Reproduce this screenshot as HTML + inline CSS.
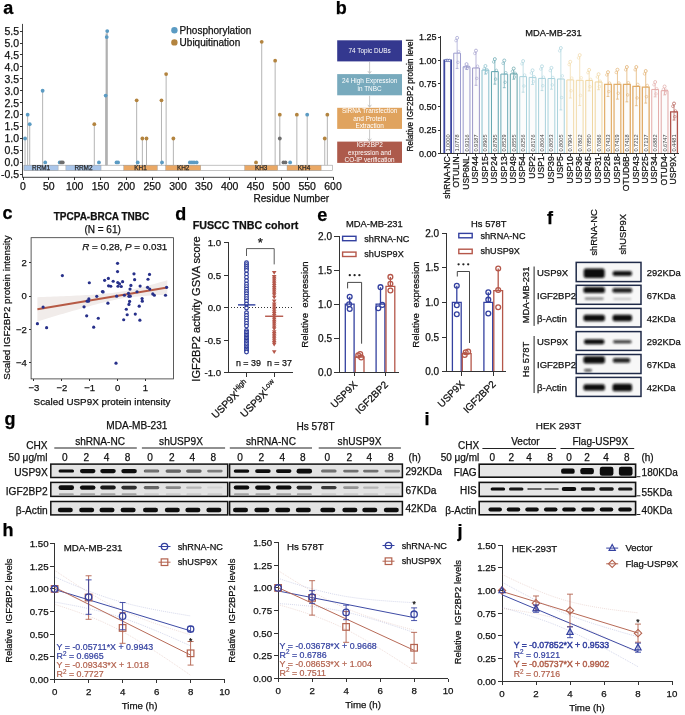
<!DOCTYPE html>
<html><head><meta charset="utf-8"><title>Figure</title>
<style>html,body{margin:0;padding:0;background:#fff;width:685px;height:715px;overflow:hidden}svg{display:block}</style>
</head><body>
<svg width="685" height="715" viewBox="0 0 685 715" font-family='"Liberation Sans", Arial, sans-serif' fill="#111"><defs><filter id="bl3" x="-30%" y="-80%" width="160%" height="260%"><feGaussianBlur stdDeviation="0.6"/></filter><filter id="bl2" x="-30%" y="-80%" width="160%" height="260%"><feGaussianBlur stdDeviation="1.05"/></filter><filter id="bl" x="-30%" y="-80%" width="160%" height="260%"><feGaussianBlur stdDeviation="0.7"/></filter></defs><rect width="685" height="715" fill="#fff"/><text x="3.30" y="14.10" font-size="18" font-weight="bold" fill="#000" stroke="#000" stroke-width="0.25">a</text>
<rect x="24.03" y="165.20" width="308.47" height="5.20" fill="#fff" stroke="#9a9a9a" stroke-width="0.6"/>
<rect x="24.03" y="165.20" width="34.10" height="5.20" fill="#aac6ea" stroke="#9a9a9a" stroke-width="0.4"/>
<text x="41.08" y="170.20" font-size="6.4" text-anchor="middle" fill="#2a2a2a" stroke="#2a2a2a" stroke-width="0.25">RRM1</text>
<rect x="65.89" y="165.20" width="35.14" height="5.20" fill="#aac6ea" stroke="#9a9a9a" stroke-width="0.4"/>
<text x="83.45" y="170.20" font-size="6.4" text-anchor="middle" fill="#2a2a2a" stroke="#2a2a2a" stroke-width="0.25">RRM2</text>
<rect x="123.76" y="165.20" width="33.59" height="5.20" fill="#eaa865" stroke="#9a9a9a" stroke-width="0.4"/>
<text x="140.55" y="170.20" font-size="6.4" text-anchor="middle" fill="#2a2a2a" stroke="#2a2a2a" stroke-width="0.25">KH1</text>
<rect x="165.61" y="165.20" width="35.14" height="5.20" fill="#eaa865" stroke="#9a9a9a" stroke-width="0.4"/>
<text x="183.18" y="170.20" font-size="6.4" text-anchor="middle" fill="#2a2a2a" stroke="#2a2a2a" stroke-width="0.25">KH2</text>
<rect x="244.66" y="165.20" width="33.07" height="5.20" fill="#eaa865" stroke="#9a9a9a" stroke-width="0.4"/>
<text x="261.20" y="170.20" font-size="6.4" text-anchor="middle" fill="#2a2a2a" stroke="#2a2a2a" stroke-width="0.25">KH3</text>
<rect x="287.03" y="165.20" width="34.10" height="5.20" fill="#eaa865" stroke="#9a9a9a" stroke-width="0.4"/>
<text x="304.08" y="170.20" font-size="6.4" text-anchor="middle" fill="#2a2a2a" stroke="#2a2a2a" stroke-width="0.25">KH4</text>
<line x1="25.07" y1="165.20" x2="25.07" y2="138.52" stroke="#b4b4b4" stroke-width="1.0"/>
<line x1="27.65" y1="165.20" x2="27.65" y2="114.64" stroke="#b4b4b4" stroke-width="1.0"/>
<line x1="29.72" y1="165.20" x2="29.72" y2="124.19" stroke="#b4b4b4" stroke-width="1.0"/>
<line x1="42.63" y1="165.20" x2="42.63" y2="90.76" stroke="#b4b4b4" stroke-width="1.0"/>
<line x1="94.30" y1="165.20" x2="94.30" y2="124.19" stroke="#b4b4b4" stroke-width="1.0"/>
<line x1="105.67" y1="165.20" x2="105.67" y2="95.54" stroke="#b4b4b4" stroke-width="1.0"/>
<line x1="106.71" y1="165.20" x2="106.71" y2="37.03" stroke="#b4b4b4" stroke-width="1.0"/>
<line x1="107.22" y1="165.20" x2="107.22" y2="31.06" stroke="#b4b4b4" stroke-width="1.0"/>
<line x1="136.67" y1="165.20" x2="136.67" y2="100.31" stroke="#b4b4b4" stroke-width="1.0"/>
<line x1="142.36" y1="165.20" x2="142.36" y2="138.52" stroke="#b4b4b4" stroke-width="1.0"/>
<line x1="146.49" y1="165.20" x2="146.49" y2="138.52" stroke="#b4b4b4" stroke-width="1.0"/>
<line x1="161.48" y1="165.20" x2="161.48" y2="100.31" stroke="#b4b4b4" stroke-width="1.0"/>
<line x1="166.13" y1="165.20" x2="166.13" y2="74.04" stroke="#b4b4b4" stroke-width="1.0"/>
<line x1="173.36" y1="165.20" x2="173.36" y2="138.52" stroke="#b4b4b4" stroke-width="1.0"/>
<line x1="261.72" y1="165.20" x2="261.72" y2="41.81" stroke="#b4b4b4" stroke-width="1.0"/>
<line x1="275.15" y1="165.20" x2="275.15" y2="60.67" stroke="#b4b4b4" stroke-width="1.0"/>
<line x1="279.80" y1="165.20" x2="279.80" y2="114.64" stroke="#b4b4b4" stroke-width="1.0"/>
<line x1="279.80" y1="165.20" x2="279.80" y2="138.52" stroke="#b4b4b4" stroke-width="1.0"/>
<line x1="296.85" y1="165.20" x2="296.85" y2="114.64" stroke="#b4b4b4" stroke-width="1.0"/>
<line x1="307.19" y1="165.20" x2="307.19" y2="114.64" stroke="#b4b4b4" stroke-width="1.0"/>
<line x1="324.75" y1="165.20" x2="324.75" y2="138.52" stroke="#b4b4b4" stroke-width="1.0"/>
<line x1="327.34" y1="165.20" x2="327.34" y2="114.64" stroke="#b4b4b4" stroke-width="1.0"/>
<line x1="106.45" y1="165.20" x2="106.45" y2="33.45" stroke="#b0b0b0" stroke-width="1.7"/>
<circle cx="25.07" cy="138.52" r="1.90" fill="#5b9bc3" stroke="none" stroke-width="1"/>
<circle cx="27.65" cy="114.64" r="1.90" fill="#5b9bc3" stroke="none" stroke-width="1"/>
<circle cx="29.72" cy="124.19" r="1.90" fill="#5b9bc3" stroke="none" stroke-width="1"/>
<circle cx="42.63" cy="90.76" r="1.90" fill="#5b9bc3" stroke="none" stroke-width="1"/>
<circle cx="45.22" cy="162.40" r="1.90" fill="#5b9bc3" stroke="none" stroke-width="1"/>
<circle cx="59.69" cy="162.40" r="1.90" fill="#5b9bc3" stroke="none" stroke-width="1"/>
<circle cx="61.24" cy="162.40" r="1.90" fill="#6e6e6e" stroke="none" stroke-width="1"/>
<circle cx="62.79" cy="162.40" r="1.90" fill="#6e6e6e" stroke="none" stroke-width="1"/>
<circle cx="94.30" cy="124.19" r="1.90" fill="#b3843f" stroke="none" stroke-width="1"/>
<circle cx="98.95" cy="162.40" r="1.90" fill="#5b9bc3" stroke="none" stroke-width="1"/>
<circle cx="105.67" cy="95.54" r="1.90" fill="#5b9bc3" stroke="none" stroke-width="1"/>
<circle cx="106.71" cy="37.03" r="1.90" fill="#5b9bc3" stroke="none" stroke-width="1"/>
<circle cx="107.22" cy="31.06" r="1.90" fill="#5b9bc3" stroke="none" stroke-width="1"/>
<circle cx="116.52" cy="162.40" r="1.90" fill="#5b9bc3" stroke="none" stroke-width="1"/>
<circle cx="118.07" cy="162.40" r="1.90" fill="#5b9bc3" stroke="none" stroke-width="1"/>
<circle cx="136.67" cy="100.31" r="1.90" fill="#b3843f" stroke="none" stroke-width="1"/>
<circle cx="137.71" cy="162.40" r="1.90" fill="#5b9bc3" stroke="none" stroke-width="1"/>
<circle cx="142.36" cy="138.52" r="1.90" fill="#b3843f" stroke="none" stroke-width="1"/>
<circle cx="146.49" cy="138.52" r="1.90" fill="#b3843f" stroke="none" stroke-width="1"/>
<circle cx="161.48" cy="100.31" r="1.90" fill="#b3843f" stroke="none" stroke-width="1"/>
<circle cx="161.99" cy="162.40" r="1.90" fill="#5b9bc3" stroke="none" stroke-width="1"/>
<circle cx="166.13" cy="74.04" r="1.90" fill="#b3843f" stroke="none" stroke-width="1"/>
<circle cx="173.36" cy="138.52" r="1.90" fill="#b3843f" stroke="none" stroke-width="1"/>
<circle cx="189.89" cy="162.40" r="1.90" fill="#5b9bc3" stroke="none" stroke-width="1"/>
<circle cx="191.96" cy="162.40" r="1.90" fill="#5b9bc3" stroke="none" stroke-width="1"/>
<circle cx="194.03" cy="162.40" r="1.90" fill="#5b9bc3" stroke="none" stroke-width="1"/>
<circle cx="196.61" cy="162.40" r="1.90" fill="#5b9bc3" stroke="none" stroke-width="1"/>
<circle cx="256.03" cy="162.40" r="1.90" fill="#b3843f" stroke="none" stroke-width="1"/>
<circle cx="261.72" cy="41.81" r="1.90" fill="#b3843f" stroke="none" stroke-width="1"/>
<circle cx="275.15" cy="60.67" r="1.90" fill="#b3843f" stroke="none" stroke-width="1"/>
<circle cx="279.80" cy="114.64" r="1.90" fill="#b3843f" stroke="none" stroke-width="1"/>
<circle cx="279.80" cy="138.52" r="1.90" fill="#6e6e6e" stroke="none" stroke-width="1"/>
<circle cx="283.42" cy="162.40" r="1.90" fill="#6e6e6e" stroke="none" stroke-width="1"/>
<circle cx="285.48" cy="162.40" r="1.90" fill="#6e6e6e" stroke="none" stroke-width="1"/>
<circle cx="290.13" cy="162.40" r="1.90" fill="#5b9bc3" stroke="none" stroke-width="1"/>
<circle cx="296.85" cy="114.64" r="1.90" fill="#b3843f" stroke="none" stroke-width="1"/>
<circle cx="307.19" cy="114.64" r="1.90" fill="#5b9bc3" stroke="none" stroke-width="1"/>
<circle cx="324.75" cy="138.52" r="1.90" fill="#b3843f" stroke="none" stroke-width="1"/>
<circle cx="327.34" cy="114.64" r="1.90" fill="#b3843f" stroke="none" stroke-width="1"/>
<line x1="22.50" y1="23.90" x2="22.50" y2="177.70" stroke="#444" stroke-width="1.0"/>
<line x1="22.50" y1="177.30" x2="333.60" y2="177.30" stroke="#444" stroke-width="1.0"/>
<line x1="20.30" y1="174.34" x2="22.50" y2="174.34" stroke="#333" stroke-width="1.0" shape-rendering="crispEdges"/>
<text x="19.00" y="178.14" font-size="10.5" text-anchor="end" stroke="#111" stroke-width="0.25">-0.5</text>
<line x1="20.30" y1="162.40" x2="22.50" y2="162.40" stroke="#333" stroke-width="1.0" shape-rendering="crispEdges"/>
<text x="19.00" y="166.20" font-size="10.5" text-anchor="end" stroke="#111" stroke-width="0.25">0.0</text>
<line x1="20.30" y1="150.46" x2="22.50" y2="150.46" stroke="#333" stroke-width="1.0" shape-rendering="crispEdges"/>
<text x="19.00" y="154.26" font-size="10.5" text-anchor="end" stroke="#111" stroke-width="0.25">0.5</text>
<line x1="20.30" y1="138.52" x2="22.50" y2="138.52" stroke="#333" stroke-width="1.0" shape-rendering="crispEdges"/>
<text x="19.00" y="142.32" font-size="10.5" text-anchor="end" stroke="#111" stroke-width="0.25">1.0</text>
<line x1="20.30" y1="126.58" x2="22.50" y2="126.58" stroke="#333" stroke-width="1.0" shape-rendering="crispEdges"/>
<text x="19.00" y="130.38" font-size="10.5" text-anchor="end" stroke="#111" stroke-width="0.25">1.5</text>
<line x1="20.30" y1="114.64" x2="22.50" y2="114.64" stroke="#333" stroke-width="1.0" shape-rendering="crispEdges"/>
<text x="19.00" y="118.44" font-size="10.5" text-anchor="end" stroke="#111" stroke-width="0.25">2.0</text>
<line x1="20.30" y1="102.70" x2="22.50" y2="102.70" stroke="#333" stroke-width="1.0" shape-rendering="crispEdges"/>
<text x="19.00" y="106.50" font-size="10.5" text-anchor="end" stroke="#111" stroke-width="0.25">2.5</text>
<line x1="20.30" y1="90.76" x2="22.50" y2="90.76" stroke="#333" stroke-width="1.0" shape-rendering="crispEdges"/>
<text x="19.00" y="94.56" font-size="10.5" text-anchor="end" stroke="#111" stroke-width="0.25">3.0</text>
<line x1="20.30" y1="78.82" x2="22.50" y2="78.82" stroke="#333" stroke-width="1.0" shape-rendering="crispEdges"/>
<text x="19.00" y="82.62" font-size="10.5" text-anchor="end" stroke="#111" stroke-width="0.25">3.5</text>
<line x1="20.30" y1="66.88" x2="22.50" y2="66.88" stroke="#333" stroke-width="1.0" shape-rendering="crispEdges"/>
<text x="19.00" y="70.68" font-size="10.5" text-anchor="end" stroke="#111" stroke-width="0.25">4.0</text>
<line x1="20.30" y1="54.94" x2="22.50" y2="54.94" stroke="#333" stroke-width="1.0" shape-rendering="crispEdges"/>
<text x="19.00" y="58.74" font-size="10.5" text-anchor="end" stroke="#111" stroke-width="0.25">4.5</text>
<line x1="20.30" y1="43.00" x2="22.50" y2="43.00" stroke="#333" stroke-width="1.0" shape-rendering="crispEdges"/>
<text x="19.00" y="46.80" font-size="10.5" text-anchor="end" stroke="#111" stroke-width="0.25">5.0</text>
<line x1="20.30" y1="31.06" x2="22.50" y2="31.06" stroke="#333" stroke-width="1.0" shape-rendering="crispEdges"/>
<text x="19.00" y="34.86" font-size="10.5" text-anchor="end" stroke="#111" stroke-width="0.25">5.5</text>
<line x1="23.00" y1="177.20" x2="23.00" y2="179.80" stroke="#333" stroke-width="1.0" shape-rendering="crispEdges"/>
<text x="23.00" y="189.60" font-size="10.5" text-anchor="middle" stroke="#111" stroke-width="0.25">0</text>
<line x1="48.84" y1="177.20" x2="48.84" y2="179.80" stroke="#333" stroke-width="1.0" shape-rendering="crispEdges"/>
<text x="48.84" y="189.60" font-size="10.5" text-anchor="middle" stroke="#111" stroke-width="0.25">50</text>
<line x1="74.67" y1="177.20" x2="74.67" y2="179.80" stroke="#333" stroke-width="1.0" shape-rendering="crispEdges"/>
<text x="74.67" y="189.60" font-size="10.5" text-anchor="middle" stroke="#111" stroke-width="0.25">100</text>
<line x1="100.51" y1="177.20" x2="100.51" y2="179.80" stroke="#333" stroke-width="1.0" shape-rendering="crispEdges"/>
<text x="100.51" y="189.60" font-size="10.5" text-anchor="middle" stroke="#111" stroke-width="0.25">150</text>
<line x1="126.34" y1="177.20" x2="126.34" y2="179.80" stroke="#333" stroke-width="1.0" shape-rendering="crispEdges"/>
<text x="126.34" y="189.60" font-size="10.5" text-anchor="middle" stroke="#111" stroke-width="0.25">200</text>
<line x1="152.18" y1="177.20" x2="152.18" y2="179.80" stroke="#333" stroke-width="1.0" shape-rendering="crispEdges"/>
<text x="152.18" y="189.60" font-size="10.5" text-anchor="middle" stroke="#111" stroke-width="0.25">250</text>
<line x1="178.01" y1="177.20" x2="178.01" y2="179.80" stroke="#333" stroke-width="1.0" shape-rendering="crispEdges"/>
<text x="178.01" y="189.60" font-size="10.5" text-anchor="middle" stroke="#111" stroke-width="0.25">300</text>
<line x1="203.85" y1="177.20" x2="203.85" y2="179.80" stroke="#333" stroke-width="1.0" shape-rendering="crispEdges"/>
<text x="203.85" y="189.60" font-size="10.5" text-anchor="middle" stroke="#111" stroke-width="0.25">350</text>
<line x1="229.68" y1="177.20" x2="229.68" y2="179.80" stroke="#333" stroke-width="1.0" shape-rendering="crispEdges"/>
<text x="229.68" y="189.60" font-size="10.5" text-anchor="middle" stroke="#111" stroke-width="0.25">400</text>
<line x1="255.52" y1="177.20" x2="255.52" y2="179.80" stroke="#333" stroke-width="1.0" shape-rendering="crispEdges"/>
<text x="255.52" y="189.60" font-size="10.5" text-anchor="middle" stroke="#111" stroke-width="0.25">450</text>
<line x1="281.35" y1="177.20" x2="281.35" y2="179.80" stroke="#333" stroke-width="1.0" shape-rendering="crispEdges"/>
<text x="281.35" y="189.60" font-size="10.5" text-anchor="middle" stroke="#111" stroke-width="0.25">500</text>
<line x1="307.19" y1="177.20" x2="307.19" y2="179.80" stroke="#333" stroke-width="1.0" shape-rendering="crispEdges"/>
<text x="307.19" y="189.60" font-size="10.5" text-anchor="middle" stroke="#111" stroke-width="0.25">550</text>
<line x1="333.02" y1="177.20" x2="333.02" y2="179.80" stroke="#333" stroke-width="1.0" shape-rendering="crispEdges"/>
<text x="333.02" y="189.60" font-size="10.5" text-anchor="middle" stroke="#111" stroke-width="0.25">600</text>
<text x="329.20" y="201.60" font-size="10.1" text-anchor="end" stroke="#111" stroke-width="0.25">Residue Number</text>
<circle cx="174.40" cy="30.20" r="3.20" fill="#5b9bc3" stroke="none" stroke-width="1"/>
<text x="179.60" y="33.70" font-size="10.0" stroke="#111" stroke-width="0.25">Phosphorylation</text>
<circle cx="174.40" cy="42.40" r="3.20" fill="#b3843f" stroke="none" stroke-width="1"/>
<text x="179.60" y="46.00" font-size="10.0" stroke="#111" stroke-width="0.25">Ubiquitination</text>
<text x="335.70" y="13.80" font-size="18" font-weight="bold" fill="#000" stroke="#000" stroke-width="0.25">b</text>
<rect x="337.20" y="40.30" width="64.80" height="21.10" fill="#34388f" stroke="none" stroke-width="1"/>
<text x="369.60" y="53.15" font-size="6.4" text-anchor="middle" fill="#fff">74 Topic DUBs</text>
<line x1="369.60" y1="61.90" x2="369.60" y2="73.10" stroke="#b0b0b0" stroke-width="0.7"/>
<path d="M367.9,71.1 L369.6,73.6 L371.3,71.1" fill="none" stroke="#b0b0b0" stroke-width="0.7"/>
<rect x="337.20" y="74.10" width="64.80" height="21.20" fill="#78aabd" stroke="none" stroke-width="1"/>
<text x="369.60" y="83.30" font-size="6.4" text-anchor="middle" fill="#fff">24 High Expression</text>
<text x="369.60" y="90.70" font-size="6.4" text-anchor="middle" fill="#fff">in TNBC</text>
<line x1="369.60" y1="95.80" x2="369.60" y2="106.80" stroke="#b0b0b0" stroke-width="0.7"/>
<path d="M367.9,104.8 L369.6,107.3 L371.3,104.8" fill="none" stroke="#b0b0b0" stroke-width="0.7"/>
<rect x="337.20" y="107.80" width="64.80" height="21.10" fill="#e0a35e" stroke="none" stroke-width="1"/>
<text x="369.60" y="113.25" font-size="6.4" text-anchor="middle" fill="#fff">SiRNA Transfection</text>
<text x="369.60" y="120.65" font-size="6.4" text-anchor="middle" fill="#fff">and Protein</text>
<text x="369.60" y="128.05" font-size="6.4" text-anchor="middle" fill="#fff">Extraction</text>
<line x1="369.60" y1="129.40" x2="369.60" y2="140.60" stroke="#b0b0b0" stroke-width="0.7"/>
<path d="M367.9,138.6 L369.6,141.1 L371.3,138.6" fill="none" stroke="#b0b0b0" stroke-width="0.7"/>
<rect x="337.20" y="141.60" width="64.80" height="21.30" fill="#ad5a4b" stroke="none" stroke-width="1"/>
<text x="369.60" y="147.15" font-size="6.4" text-anchor="middle" fill="#fff">IGF2BP2</text>
<text x="369.60" y="154.55" font-size="6.4" text-anchor="middle" fill="#fff">expression and</text>
<text x="369.60" y="161.95" font-size="6.4" text-anchor="middle" fill="#fff">CO-IP verification</text>
<text x="413.00" y="95.50" font-size="8.2" text-anchor="middle" transform="rotate(-90 413.00 95.50)" stroke="#111" stroke-width="0.25">Relative IGF2BP2 protein level</text>
<line x1="440.30" y1="35.50" x2="440.30" y2="153.50" stroke="#333" stroke-width="1.0" shape-rendering="crispEdges"/>
<line x1="437.70" y1="153.50" x2="440.30" y2="153.50" stroke="#333" stroke-width="1.0" shape-rendering="crispEdges"/>
<text x="436.60" y="156.70" font-size="9.0" text-anchor="end" stroke="#111" stroke-width="0.25">0.00</text>
<line x1="437.70" y1="130.22" x2="440.30" y2="130.22" stroke="#333" stroke-width="1.0" shape-rendering="crispEdges"/>
<text x="436.60" y="133.42" font-size="9.0" text-anchor="end" stroke="#111" stroke-width="0.25">0.25</text>
<line x1="437.70" y1="106.95" x2="440.30" y2="106.95" stroke="#333" stroke-width="1.0" shape-rendering="crispEdges"/>
<text x="436.60" y="110.15" font-size="9.0" text-anchor="end" stroke="#111" stroke-width="0.25">0.50</text>
<line x1="437.70" y1="83.68" x2="440.30" y2="83.68" stroke="#333" stroke-width="1.0" shape-rendering="crispEdges"/>
<text x="436.60" y="86.88" font-size="9.0" text-anchor="end" stroke="#111" stroke-width="0.25">0.75</text>
<line x1="437.70" y1="60.40" x2="440.30" y2="60.40" stroke="#333" stroke-width="1.0" shape-rendering="crispEdges"/>
<text x="436.60" y="63.60" font-size="9.0" text-anchor="end" stroke="#111" stroke-width="0.25">1.00</text>
<line x1="437.70" y1="37.12" x2="440.30" y2="37.12" stroke="#333" stroke-width="1.0" shape-rendering="crispEdges"/>
<text x="436.60" y="40.33" font-size="9.0" text-anchor="end" stroke="#111" stroke-width="0.25">1.25</text>
<text x="553.50" y="36.00" font-size="9.3" text-anchor="middle" stroke="#111" stroke-width="0.25">MDA-MB-231</text>
<rect x="444.30" y="60.40" width="6.80" height="93.10" fill="#fcfcfc" stroke="none" stroke-width="1"/>
<path d="M444.30,153.50 L444.30,60.40 L451.10,60.40 L451.10,153.50" fill="none" stroke="#3d48a0" stroke-width="1.8"/>
<circle cx="446.10" cy="60.40" r="1.20" fill="#fff" stroke="#3d48a0" stroke-width="0.6"/>
<circle cx="447.70" cy="60.40" r="1.20" fill="#fff" stroke="#3d48a0" stroke-width="0.6"/>
<circle cx="449.30" cy="60.40" r="1.20" fill="#fff" stroke="#3d48a0" stroke-width="0.6"/>
<line x1="447.70" y1="153.50" x2="447.70" y2="155.90" stroke="#333" stroke-width="1.0" shape-rendering="crispEdges"/>
<text x="449.70" y="151.60" font-size="5.6" fill="#444" transform="rotate(-90 449.70 151.60)">1.0000</text>
<text x="450.00" y="156.30" font-size="8.6" text-anchor="end" transform="rotate(-90 450.00 156.30)" stroke="#111" stroke-width="0.25">shRNA-NC</text>
<rect x="453.73" y="53.16" width="6.80" height="100.34" fill="#fcfcfc" stroke="none" stroke-width="1"/>
<path d="M453.73,153.50 L453.73,53.16 L460.53,53.16 L460.53,153.50" fill="none" stroke="#9d9dcf" stroke-width="1.0"/>
<line x1="457.13" y1="39.27" x2="457.13" y2="68.44" stroke="#9d9dcf" stroke-width="0.7"/>
<line x1="455.73" y1="68.44" x2="458.53" y2="68.44" stroke="#9d9dcf" stroke-width="0.7"/>
<circle cx="457.13" cy="37.87" r="1.50" fill="#fff" stroke="#9d9dcf" stroke-width="0.7"/>
<circle cx="455.93" cy="40.66" r="1.30" fill="none" stroke="#9d9dcf" stroke-width="0.5"/>
<circle cx="457.93" cy="62.33" r="1.30" fill="none" stroke="#9d9dcf" stroke-width="0.5"/>
<circle cx="458.63" cy="51.63" r="1.30" fill="none" stroke="#9d9dcf" stroke-width="0.5"/>
<line x1="457.13" y1="153.50" x2="457.13" y2="155.90" stroke="#333" stroke-width="1.0" shape-rendering="crispEdges"/>
<text x="459.13" y="151.60" font-size="5.6" fill="#444" transform="rotate(-90 459.13 151.60)">1.0778</text>
<text x="459.43" y="156.30" font-size="8.6" text-anchor="end" transform="rotate(-90 459.43 156.30)" stroke="#111" stroke-width="0.25">OTULIN</text>
<rect x="463.16" y="66.77" width="6.80" height="86.73" fill="#fcfcfc" stroke="none" stroke-width="1"/>
<path d="M463.16,153.50 L463.16,66.77 L469.96,66.77 L469.96,153.50" fill="none" stroke="#9a9acb" stroke-width="1.0"/>
<line x1="466.56" y1="65.52" x2="466.56" y2="69.41" stroke="#9a9acb" stroke-width="0.7"/>
<line x1="465.16" y1="69.41" x2="467.96" y2="69.41" stroke="#9a9acb" stroke-width="0.7"/>
<circle cx="466.56" cy="64.12" r="1.50" fill="#fff" stroke="#9a9acb" stroke-width="0.7"/>
<circle cx="465.36" cy="66.92" r="1.30" fill="none" stroke="#9a9acb" stroke-width="0.5"/>
<circle cx="467.36" cy="68.35" r="1.30" fill="none" stroke="#9a9acb" stroke-width="0.5"/>
<circle cx="468.06" cy="66.50" r="1.30" fill="none" stroke="#9a9acb" stroke-width="0.5"/>
<line x1="466.56" y1="153.50" x2="466.56" y2="155.90" stroke="#333" stroke-width="1.0" shape-rendering="crispEdges"/>
<text x="468.56" y="151.60" font-size="5.6" fill="#444" transform="rotate(-90 468.56 151.60)">0.9316</text>
<text x="468.86" y="156.30" font-size="8.6" text-anchor="end" transform="rotate(-90 468.86 156.30)" stroke="#111" stroke-width="0.25">USP6NL</text>
<rect x="472.59" y="67.97" width="6.80" height="85.53" fill="#fcfcfc" stroke="none" stroke-width="1"/>
<path d="M472.59,153.50 L472.59,67.97 L479.39,67.97 L479.39,153.50" fill="none" stroke="#9d98c8" stroke-width="1.0"/>
<line x1="475.99" y1="52.02" x2="475.99" y2="85.31" stroke="#9d98c8" stroke-width="0.7"/>
<line x1="474.59" y1="85.31" x2="477.39" y2="85.31" stroke="#9d98c8" stroke-width="0.7"/>
<circle cx="475.99" cy="50.62" r="1.50" fill="#fff" stroke="#9d98c8" stroke-width="0.7"/>
<circle cx="474.79" cy="53.42" r="1.30" fill="none" stroke="#9d98c8" stroke-width="0.5"/>
<circle cx="476.79" cy="78.38" r="1.30" fill="none" stroke="#9d98c8" stroke-width="0.5"/>
<circle cx="477.49" cy="66.23" r="1.30" fill="none" stroke="#9d98c8" stroke-width="0.5"/>
<line x1="475.99" y1="153.50" x2="475.99" y2="155.90" stroke="#333" stroke-width="1.0" shape-rendering="crispEdges"/>
<text x="477.99" y="151.60" font-size="5.6" fill="#444" transform="rotate(-90 477.99 151.60)">0.9187</text>
<text x="478.29" y="156.30" font-size="8.6" text-anchor="end" transform="rotate(-90 478.29 156.30)" stroke="#111" stroke-width="0.25">USP44</text>
<rect x="482.02" y="70.04" width="6.80" height="83.46" fill="#fcfcfc" stroke="none" stroke-width="1"/>
<path d="M482.02,153.50 L482.02,70.04 L488.82,70.04 L488.82,153.50" fill="none" stroke="#86bfcc" stroke-width="1.0"/>
<line x1="485.42" y1="67.39" x2="485.42" y2="74.09" stroke="#86bfcc" stroke-width="0.7"/>
<line x1="484.02" y1="74.09" x2="486.82" y2="74.09" stroke="#86bfcc" stroke-width="0.7"/>
<circle cx="485.42" cy="65.99" r="1.50" fill="#fff" stroke="#86bfcc" stroke-width="0.7"/>
<circle cx="484.22" cy="68.78" r="1.30" fill="none" stroke="#86bfcc" stroke-width="0.5"/>
<circle cx="486.22" cy="72.47" r="1.30" fill="none" stroke="#86bfcc" stroke-width="0.5"/>
<circle cx="486.92" cy="69.63" r="1.30" fill="none" stroke="#86bfcc" stroke-width="0.5"/>
<line x1="485.42" y1="153.50" x2="485.42" y2="155.90" stroke="#333" stroke-width="1.0" shape-rendering="crispEdges"/>
<text x="487.42" y="151.60" font-size="5.6" fill="#444" transform="rotate(-90 487.42 151.60)">0.8965</text>
<text x="487.72" y="156.30" font-size="8.6" text-anchor="end" transform="rotate(-90 487.72 156.30)" stroke="#111" stroke-width="0.25">USP15</text>
<rect x="491.45" y="71.62" width="6.80" height="81.88" fill="#fcfcfc" stroke="none" stroke-width="1"/>
<path d="M491.45,153.50 L491.45,71.62 L498.25,71.62 L498.25,153.50" fill="none" stroke="#5fa3ad" stroke-width="1.0"/>
<line x1="494.85" y1="60.50" x2="494.85" y2="84.14" stroke="#5fa3ad" stroke-width="0.7"/>
<line x1="493.45" y1="84.14" x2="496.25" y2="84.14" stroke="#5fa3ad" stroke-width="0.7"/>
<circle cx="494.85" cy="59.10" r="1.50" fill="#fff" stroke="#5fa3ad" stroke-width="0.7"/>
<circle cx="493.65" cy="61.89" r="1.30" fill="none" stroke="#5fa3ad" stroke-width="0.5"/>
<circle cx="495.65" cy="79.13" r="1.30" fill="none" stroke="#5fa3ad" stroke-width="0.5"/>
<circle cx="496.35" cy="70.37" r="1.30" fill="none" stroke="#5fa3ad" stroke-width="0.5"/>
<line x1="494.85" y1="153.50" x2="494.85" y2="155.90" stroke="#333" stroke-width="1.0" shape-rendering="crispEdges"/>
<text x="496.85" y="151.60" font-size="5.6" fill="#444" transform="rotate(-90 496.85 151.60)">0.8795</text>
<text x="497.15" y="156.30" font-size="8.6" text-anchor="end" transform="rotate(-90 497.15 156.30)" stroke="#111" stroke-width="0.25">USP24</text>
<rect x="500.88" y="74.10" width="6.80" height="79.40" fill="#fcfcfc" stroke="none" stroke-width="1"/>
<path d="M500.88,153.50 L500.88,74.10 L507.68,74.10 L507.68,153.50" fill="none" stroke="#6aa9b5" stroke-width="1.0"/>
<line x1="504.28" y1="61.89" x2="504.28" y2="87.70" stroke="#6aa9b5" stroke-width="0.7"/>
<line x1="502.88" y1="87.70" x2="505.68" y2="87.70" stroke="#6aa9b5" stroke-width="0.7"/>
<circle cx="504.28" cy="60.49" r="1.50" fill="#fff" stroke="#6aa9b5" stroke-width="0.7"/>
<circle cx="503.08" cy="63.29" r="1.30" fill="none" stroke="#6aa9b5" stroke-width="0.5"/>
<circle cx="505.08" cy="82.26" r="1.30" fill="none" stroke="#6aa9b5" stroke-width="0.5"/>
<circle cx="505.78" cy="72.73" r="1.30" fill="none" stroke="#6aa9b5" stroke-width="0.5"/>
<line x1="504.28" y1="153.50" x2="504.28" y2="155.90" stroke="#333" stroke-width="1.0" shape-rendering="crispEdges"/>
<text x="506.28" y="151.60" font-size="5.6" fill="#444" transform="rotate(-90 506.28 151.60)">0.8529</text>
<text x="506.58" y="156.30" font-size="8.6" text-anchor="end" transform="rotate(-90 506.58 156.30)" stroke="#111" stroke-width="0.25">USP13</text>
<rect x="510.31" y="73.85" width="6.80" height="79.65" fill="#fcfcfc" stroke="none" stroke-width="1"/>
<path d="M510.31,153.50 L510.31,73.85 L517.11,73.85 L517.11,153.50" fill="none" stroke="#62a3a8" stroke-width="1.0"/>
<line x1="513.71" y1="69.90" x2="513.71" y2="79.21" stroke="#62a3a8" stroke-width="0.7"/>
<line x1="512.31" y1="79.21" x2="515.11" y2="79.21" stroke="#62a3a8" stroke-width="0.7"/>
<circle cx="513.71" cy="68.50" r="1.50" fill="#fff" stroke="#62a3a8" stroke-width="0.7"/>
<circle cx="512.51" cy="71.29" r="1.30" fill="none" stroke="#62a3a8" stroke-width="0.5"/>
<circle cx="514.51" cy="77.06" r="1.30" fill="none" stroke="#62a3a8" stroke-width="0.5"/>
<circle cx="515.21" cy="73.32" r="1.30" fill="none" stroke="#62a3a8" stroke-width="0.5"/>
<line x1="513.71" y1="153.50" x2="513.71" y2="155.90" stroke="#333" stroke-width="1.0" shape-rendering="crispEdges"/>
<text x="515.71" y="151.60" font-size="5.6" fill="#444" transform="rotate(-90 515.71 151.60)">0.8555</text>
<text x="516.01" y="156.30" font-size="8.6" text-anchor="end" transform="rotate(-90 516.01 156.30)" stroke="#111" stroke-width="0.25">USP49</text>
<rect x="519.74" y="76.64" width="6.80" height="76.86" fill="#fcfcfc" stroke="none" stroke-width="1"/>
<path d="M519.74,153.50 L519.74,76.64 L526.54,76.64 L526.54,153.50" fill="none" stroke="#a9d2dc" stroke-width="1.0"/>
<line x1="523.14" y1="62.45" x2="523.14" y2="92.22" stroke="#a9d2dc" stroke-width="0.7"/>
<line x1="521.74" y1="92.22" x2="524.54" y2="92.22" stroke="#a9d2dc" stroke-width="0.7"/>
<circle cx="523.14" cy="61.05" r="1.50" fill="#fff" stroke="#a9d2dc" stroke-width="0.7"/>
<circle cx="521.94" cy="63.84" r="1.30" fill="none" stroke="#a9d2dc" stroke-width="0.5"/>
<circle cx="523.94" cy="85.99" r="1.30" fill="none" stroke="#a9d2dc" stroke-width="0.5"/>
<circle cx="524.64" cy="75.08" r="1.30" fill="none" stroke="#a9d2dc" stroke-width="0.5"/>
<line x1="523.14" y1="153.50" x2="523.14" y2="155.90" stroke="#333" stroke-width="1.0" shape-rendering="crispEdges"/>
<text x="525.14" y="151.60" font-size="5.6" fill="#444" transform="rotate(-90 525.14 151.60)">0.8256</text>
<text x="525.44" y="156.30" font-size="8.6" text-anchor="end" transform="rotate(-90 525.44 156.30)" stroke="#111" stroke-width="0.25">USP54</text>
<rect x="529.17" y="77.38" width="6.80" height="76.12" fill="#fcfcfc" stroke="none" stroke-width="1"/>
<path d="M529.17,153.50 L529.17,77.38 L535.97,77.38 L535.97,153.50" fill="none" stroke="#a9d2dc" stroke-width="1.0"/>
<line x1="532.57" y1="71.67" x2="532.57" y2="84.49" stroke="#a9d2dc" stroke-width="0.7"/>
<line x1="531.17" y1="84.49" x2="533.97" y2="84.49" stroke="#a9d2dc" stroke-width="0.7"/>
<circle cx="532.57" cy="70.27" r="1.50" fill="#fff" stroke="#a9d2dc" stroke-width="0.7"/>
<circle cx="531.37" cy="73.06" r="1.30" fill="none" stroke="#a9d2dc" stroke-width="0.5"/>
<circle cx="533.37" cy="81.65" r="1.30" fill="none" stroke="#a9d2dc" stroke-width="0.5"/>
<circle cx="534.07" cy="76.67" r="1.30" fill="none" stroke="#a9d2dc" stroke-width="0.5"/>
<line x1="532.57" y1="153.50" x2="532.57" y2="155.90" stroke="#333" stroke-width="1.0" shape-rendering="crispEdges"/>
<text x="534.57" y="151.60" font-size="5.6" fill="#444" transform="rotate(-90 534.57 151.60)">0.8176</text>
<text x="534.87" y="156.30" font-size="8.6" text-anchor="end" transform="rotate(-90 534.87 156.30)" stroke="#111" stroke-width="0.25">USP2</text>
<rect x="538.60" y="78.42" width="6.80" height="75.08" fill="#fcfcfc" stroke="none" stroke-width="1"/>
<path d="M538.60,153.50 L538.60,78.42 L545.40,78.42 L545.40,153.50" fill="none" stroke="#a9d2dc" stroke-width="1.0"/>
<line x1="542.00" y1="67.67" x2="542.00" y2="90.58" stroke="#a9d2dc" stroke-width="0.7"/>
<line x1="540.60" y1="90.58" x2="543.40" y2="90.58" stroke="#a9d2dc" stroke-width="0.7"/>
<circle cx="542.00" cy="66.27" r="1.50" fill="#fff" stroke="#a9d2dc" stroke-width="0.7"/>
<circle cx="540.80" cy="69.06" r="1.30" fill="none" stroke="#a9d2dc" stroke-width="0.5"/>
<circle cx="542.80" cy="85.72" r="1.30" fill="none" stroke="#a9d2dc" stroke-width="0.5"/>
<circle cx="543.50" cy="77.21" r="1.30" fill="none" stroke="#a9d2dc" stroke-width="0.5"/>
<line x1="542.00" y1="153.50" x2="542.00" y2="155.90" stroke="#333" stroke-width="1.0" shape-rendering="crispEdges"/>
<text x="544.00" y="151.60" font-size="5.6" fill="#444" transform="rotate(-90 544.00 151.60)">0.8064</text>
<text x="544.30" y="156.30" font-size="8.6" text-anchor="end" transform="rotate(-90 544.30 156.30)" stroke="#111" stroke-width="0.25">USP1</text>
<rect x="548.03" y="78.53" width="6.80" height="74.97" fill="#fcfcfc" stroke="none" stroke-width="1"/>
<path d="M548.03,153.50 L548.03,78.53 L554.83,78.53 L554.83,153.50" fill="none" stroke="#a9d2dc" stroke-width="1.0"/>
<line x1="551.43" y1="69.25" x2="551.43" y2="89.21" stroke="#a9d2dc" stroke-width="0.7"/>
<line x1="550.03" y1="89.21" x2="552.83" y2="89.21" stroke="#a9d2dc" stroke-width="0.7"/>
<circle cx="551.43" cy="67.85" r="1.50" fill="#fff" stroke="#a9d2dc" stroke-width="0.7"/>
<circle cx="550.23" cy="70.64" r="1.30" fill="none" stroke="#a9d2dc" stroke-width="0.5"/>
<circle cx="552.23" cy="84.93" r="1.30" fill="none" stroke="#a9d2dc" stroke-width="0.5"/>
<circle cx="552.93" cy="77.46" r="1.30" fill="none" stroke="#a9d2dc" stroke-width="0.5"/>
<line x1="551.43" y1="153.50" x2="551.43" y2="155.90" stroke="#333" stroke-width="1.0" shape-rendering="crispEdges"/>
<text x="553.43" y="151.60" font-size="5.6" fill="#444" transform="rotate(-90 553.43 151.60)">0.8053</text>
<text x="553.73" y="156.30" font-size="8.6" text-anchor="end" transform="rotate(-90 553.73 156.30)" stroke="#111" stroke-width="0.25">USP39</text>
<rect x="557.46" y="78.97" width="6.80" height="74.53" fill="#fcfcfc" stroke="none" stroke-width="1"/>
<path d="M557.46,153.50 L557.46,78.97 L564.26,78.97 L564.26,153.50" fill="none" stroke="#a9d2dc" stroke-width="1.0"/>
<line x1="560.86" y1="49.42" x2="560.86" y2="109.93" stroke="#a9d2dc" stroke-width="0.7"/>
<line x1="559.46" y1="109.93" x2="562.26" y2="109.93" stroke="#a9d2dc" stroke-width="0.7"/>
<circle cx="560.86" cy="48.02" r="1.50" fill="#fff" stroke="#a9d2dc" stroke-width="0.7"/>
<circle cx="559.66" cy="50.81" r="1.30" fill="none" stroke="#a9d2dc" stroke-width="0.5"/>
<circle cx="561.66" cy="97.55" r="1.30" fill="none" stroke="#a9d2dc" stroke-width="0.5"/>
<circle cx="562.36" cy="75.88" r="1.30" fill="none" stroke="#a9d2dc" stroke-width="0.5"/>
<line x1="560.86" y1="153.50" x2="560.86" y2="155.90" stroke="#333" stroke-width="1.0" shape-rendering="crispEdges"/>
<text x="562.86" y="151.60" font-size="5.6" fill="#444" transform="rotate(-90 562.86 151.60)">0.8005</text>
<text x="563.16" y="156.30" font-size="8.6" text-anchor="end" transform="rotate(-90 563.16 156.30)" stroke="#111" stroke-width="0.25">USP5</text>
<rect x="566.89" y="79.91" width="6.80" height="73.59" fill="#fcfcfc" stroke="none" stroke-width="1"/>
<path d="M566.89,153.50 L566.89,79.91 L573.69,79.91 L573.69,153.50" fill="none" stroke="#f0d8a6" stroke-width="1.0"/>
<line x1="570.29" y1="63.20" x2="570.29" y2="98.03" stroke="#f0d8a6" stroke-width="0.7"/>
<line x1="568.89" y1="98.03" x2="571.69" y2="98.03" stroke="#f0d8a6" stroke-width="0.7"/>
<circle cx="570.29" cy="61.80" r="1.50" fill="#fff" stroke="#f0d8a6" stroke-width="0.7"/>
<circle cx="569.09" cy="64.59" r="1.30" fill="none" stroke="#f0d8a6" stroke-width="0.5"/>
<circle cx="571.09" cy="90.78" r="1.30" fill="none" stroke="#f0d8a6" stroke-width="0.5"/>
<circle cx="571.79" cy="78.10" r="1.30" fill="none" stroke="#f0d8a6" stroke-width="0.5"/>
<line x1="570.29" y1="153.50" x2="570.29" y2="155.90" stroke="#333" stroke-width="1.0" shape-rendering="crispEdges"/>
<text x="572.29" y="151.60" font-size="5.6" fill="#444" transform="rotate(-90 572.29 151.60)">0.7904</text>
<text x="572.59" y="156.30" font-size="8.6" text-anchor="end" transform="rotate(-90 572.59 156.30)" stroke="#111" stroke-width="0.25">USP10</text>
<rect x="576.32" y="80.30" width="6.80" height="73.20" fill="#fcfcfc" stroke="none" stroke-width="1"/>
<path d="M576.32,153.50 L576.32,80.30 L583.12,80.30 L583.12,153.50" fill="none" stroke="#f0d8a6" stroke-width="1.0"/>
<line x1="579.72" y1="56.49" x2="579.72" y2="105.52" stroke="#f0d8a6" stroke-width="0.7"/>
<line x1="578.32" y1="105.52" x2="581.12" y2="105.52" stroke="#f0d8a6" stroke-width="0.7"/>
<circle cx="579.72" cy="55.09" r="1.50" fill="#fff" stroke="#f0d8a6" stroke-width="0.7"/>
<circle cx="578.52" cy="57.89" r="1.30" fill="none" stroke="#f0d8a6" stroke-width="0.5"/>
<circle cx="580.52" cy="95.43" r="1.30" fill="none" stroke="#f0d8a6" stroke-width="0.5"/>
<circle cx="581.22" cy="77.78" r="1.30" fill="none" stroke="#f0d8a6" stroke-width="0.5"/>
<line x1="579.72" y1="153.50" x2="579.72" y2="155.90" stroke="#333" stroke-width="1.0" shape-rendering="crispEdges"/>
<text x="581.72" y="151.60" font-size="5.6" fill="#444" transform="rotate(-90 581.72 151.60)">0.7862</text>
<text x="582.02" y="156.30" font-size="8.6" text-anchor="end" transform="rotate(-90 582.02 156.30)" stroke="#111" stroke-width="0.25">USP36</text>
<rect x="585.75" y="80.42" width="6.80" height="73.08" fill="#fcfcfc" stroke="none" stroke-width="1"/>
<path d="M585.75,153.50 L585.75,80.42 L592.55,80.42 L592.55,153.50" fill="none" stroke="#efd49e" stroke-width="1.0"/>
<line x1="589.15" y1="71.30" x2="589.15" y2="90.94" stroke="#efd49e" stroke-width="0.7"/>
<line x1="587.75" y1="90.94" x2="590.55" y2="90.94" stroke="#efd49e" stroke-width="0.7"/>
<circle cx="589.15" cy="69.90" r="1.50" fill="#fff" stroke="#efd49e" stroke-width="0.7"/>
<circle cx="587.95" cy="72.69" r="1.30" fill="none" stroke="#efd49e" stroke-width="0.5"/>
<circle cx="589.95" cy="86.73" r="1.30" fill="none" stroke="#efd49e" stroke-width="0.5"/>
<circle cx="590.65" cy="79.36" r="1.30" fill="none" stroke="#efd49e" stroke-width="0.5"/>
<line x1="589.15" y1="153.50" x2="589.15" y2="155.90" stroke="#333" stroke-width="1.0" shape-rendering="crispEdges"/>
<text x="591.15" y="151.60" font-size="5.6" fill="#444" transform="rotate(-90 591.15 151.60)">0.7850</text>
<text x="591.45" y="156.30" font-size="8.6" text-anchor="end" transform="rotate(-90 591.45 156.30)" stroke="#111" stroke-width="0.25">USP45</text>
<rect x="595.18" y="81.94" width="6.80" height="71.56" fill="#fcfcfc" stroke="none" stroke-width="1"/>
<path d="M595.18,153.50 L595.18,81.94 L601.98,81.94 L601.98,153.50" fill="none" stroke="#efd49e" stroke-width="1.0"/>
<line x1="598.58" y1="75.58" x2="598.58" y2="89.71" stroke="#efd49e" stroke-width="0.7"/>
<line x1="597.18" y1="89.71" x2="599.98" y2="89.71" stroke="#efd49e" stroke-width="0.7"/>
<circle cx="598.58" cy="74.18" r="1.50" fill="#fff" stroke="#efd49e" stroke-width="0.7"/>
<circle cx="597.38" cy="76.97" r="1.30" fill="none" stroke="#efd49e" stroke-width="0.5"/>
<circle cx="599.38" cy="86.60" r="1.30" fill="none" stroke="#efd49e" stroke-width="0.5"/>
<circle cx="600.08" cy="81.17" r="1.30" fill="none" stroke="#efd49e" stroke-width="0.5"/>
<line x1="598.58" y1="153.50" x2="598.58" y2="155.90" stroke="#333" stroke-width="1.0" shape-rendering="crispEdges"/>
<text x="600.58" y="151.60" font-size="5.6" fill="#444" transform="rotate(-90 600.58 151.60)">0.7686</text>
<text x="600.88" y="156.30" font-size="8.6" text-anchor="end" transform="rotate(-90 600.88 156.30)" stroke="#111" stroke-width="0.25">USP31</text>
<rect x="604.61" y="84.30" width="6.80" height="69.20" fill="#fcfcfc" stroke="none" stroke-width="1"/>
<path d="M604.61,153.50 L604.61,84.30 L611.41,84.30 L611.41,153.50" fill="none" stroke="#e3b06e" stroke-width="1.3"/>
<line x1="608.01" y1="73.53" x2="608.01" y2="96.47" stroke="#e3b06e" stroke-width="0.7"/>
<line x1="606.61" y1="96.47" x2="609.41" y2="96.47" stroke="#e3b06e" stroke-width="0.7"/>
<circle cx="608.01" cy="72.13" r="1.50" fill="#fff" stroke="#e3b06e" stroke-width="0.7"/>
<circle cx="606.81" cy="74.92" r="1.30" fill="none" stroke="#e3b06e" stroke-width="0.5"/>
<circle cx="608.81" cy="91.60" r="1.30" fill="none" stroke="#e3b06e" stroke-width="0.5"/>
<circle cx="609.51" cy="83.08" r="1.30" fill="none" stroke="#e3b06e" stroke-width="0.5"/>
<line x1="608.01" y1="153.50" x2="608.01" y2="155.90" stroke="#333" stroke-width="1.0" shape-rendering="crispEdges"/>
<text x="610.01" y="151.60" font-size="5.6" fill="#444" transform="rotate(-90 610.01 151.60)">0.7433</text>
<text x="610.31" y="156.30" font-size="8.6" text-anchor="end" transform="rotate(-90 610.31 156.30)" stroke="#111" stroke-width="0.25">USP28</text>
<rect x="614.04" y="84.43" width="6.80" height="69.07" fill="#fcfcfc" stroke="none" stroke-width="1"/>
<path d="M614.04,153.50 L614.04,84.43 L620.84,84.43 L620.84,153.50" fill="none" stroke="#e3b06e" stroke-width="1.3"/>
<line x1="617.44" y1="71.11" x2="617.44" y2="99.15" stroke="#e3b06e" stroke-width="0.7"/>
<line x1="616.04" y1="99.15" x2="618.84" y2="99.15" stroke="#e3b06e" stroke-width="0.7"/>
<circle cx="617.44" cy="69.71" r="1.50" fill="#fff" stroke="#e3b06e" stroke-width="0.7"/>
<circle cx="616.24" cy="72.50" r="1.30" fill="none" stroke="#e3b06e" stroke-width="0.5"/>
<circle cx="618.24" cy="93.26" r="1.30" fill="none" stroke="#e3b06e" stroke-width="0.5"/>
<circle cx="618.94" cy="82.96" r="1.30" fill="none" stroke="#e3b06e" stroke-width="0.5"/>
<line x1="617.44" y1="153.50" x2="617.44" y2="155.90" stroke="#333" stroke-width="1.0" shape-rendering="crispEdges"/>
<text x="619.44" y="151.60" font-size="5.6" fill="#444" transform="rotate(-90 619.44 151.60)">0.7419</text>
<text x="619.74" y="156.30" font-size="8.6" text-anchor="end" transform="rotate(-90 619.74 156.30)" stroke="#111" stroke-width="0.25">USP18</text>
<rect x="623.47" y="84.44" width="6.80" height="69.06" fill="#fcfcfc" stroke="none" stroke-width="1"/>
<path d="M623.47,153.50 L623.47,84.44 L630.27,84.44 L630.27,153.50" fill="none" stroke="#e0aa66" stroke-width="1.3"/>
<line x1="626.87" y1="68.41" x2="626.87" y2="101.87" stroke="#e0aa66" stroke-width="0.7"/>
<line x1="625.47" y1="101.87" x2="628.27" y2="101.87" stroke="#e0aa66" stroke-width="0.7"/>
<circle cx="626.87" cy="67.01" r="1.50" fill="#fff" stroke="#e0aa66" stroke-width="0.7"/>
<circle cx="625.67" cy="69.80" r="1.30" fill="none" stroke="#e0aa66" stroke-width="0.5"/>
<circle cx="627.67" cy="94.90" r="1.30" fill="none" stroke="#e0aa66" stroke-width="0.5"/>
<circle cx="628.37" cy="82.70" r="1.30" fill="none" stroke="#e0aa66" stroke-width="0.5"/>
<line x1="626.87" y1="153.50" x2="626.87" y2="155.90" stroke="#333" stroke-width="1.0" shape-rendering="crispEdges"/>
<text x="628.87" y="151.60" font-size="5.6" fill="#444" transform="rotate(-90 628.87 151.60)">0.7418</text>
<text x="629.17" y="156.30" font-size="8.6" text-anchor="end" transform="rotate(-90 629.17 156.30)" stroke="#111" stroke-width="0.25">OTUD6B</text>
<rect x="632.90" y="86.36" width="6.80" height="67.14" fill="#fcfcfc" stroke="none" stroke-width="1"/>
<path d="M632.90,153.50 L632.90,86.36 L639.70,86.36 L639.70,153.50" fill="none" stroke="#e0aa66" stroke-width="1.3"/>
<line x1="636.30" y1="68.41" x2="636.30" y2="105.70" stroke="#e0aa66" stroke-width="0.7"/>
<line x1="634.90" y1="105.70" x2="637.70" y2="105.70" stroke="#e0aa66" stroke-width="0.7"/>
<circle cx="636.30" cy="67.01" r="1.50" fill="#fff" stroke="#e0aa66" stroke-width="0.7"/>
<circle cx="635.10" cy="69.80" r="1.30" fill="none" stroke="#e0aa66" stroke-width="0.5"/>
<circle cx="637.10" cy="97.96" r="1.30" fill="none" stroke="#e0aa66" stroke-width="0.5"/>
<circle cx="637.80" cy="84.42" r="1.30" fill="none" stroke="#e0aa66" stroke-width="0.5"/>
<line x1="636.30" y1="153.50" x2="636.30" y2="155.90" stroke="#333" stroke-width="1.0" shape-rendering="crispEdges"/>
<text x="638.30" y="151.60" font-size="5.6" fill="#444" transform="rotate(-90 638.30 151.60)">0.7212</text>
<text x="638.60" y="156.30" font-size="8.6" text-anchor="end" transform="rotate(-90 638.60 156.30)" stroke="#111" stroke-width="0.25">USP43</text>
<rect x="642.33" y="87.05" width="6.80" height="66.45" fill="#fcfcfc" stroke="none" stroke-width="1"/>
<path d="M642.33,153.50 L642.33,87.05 L649.13,87.05 L649.13,153.50" fill="none" stroke="#e0aa66" stroke-width="1.3"/>
<line x1="645.73" y1="72.41" x2="645.73" y2="103.10" stroke="#e0aa66" stroke-width="0.7"/>
<line x1="644.33" y1="103.10" x2="647.13" y2="103.10" stroke="#e0aa66" stroke-width="0.7"/>
<circle cx="645.73" cy="71.01" r="1.50" fill="#fff" stroke="#e0aa66" stroke-width="0.7"/>
<circle cx="644.53" cy="73.81" r="1.30" fill="none" stroke="#e0aa66" stroke-width="0.5"/>
<circle cx="646.53" cy="96.68" r="1.30" fill="none" stroke="#e0aa66" stroke-width="0.5"/>
<circle cx="647.23" cy="85.45" r="1.30" fill="none" stroke="#e0aa66" stroke-width="0.5"/>
<line x1="645.73" y1="153.50" x2="645.73" y2="155.90" stroke="#333" stroke-width="1.0" shape-rendering="crispEdges"/>
<text x="647.73" y="151.60" font-size="5.6" fill="#444" transform="rotate(-90 647.73 151.60)">0.7137</text>
<text x="648.03" y="156.30" font-size="8.6" text-anchor="end" transform="rotate(-90 648.03 156.30)" stroke="#111" stroke-width="0.25">USP25</text>
<rect x="651.76" y="89.43" width="6.80" height="64.07" fill="#fcfcfc" stroke="none" stroke-width="1"/>
<path d="M651.76,153.50 L651.76,89.43 L658.56,89.43 L658.56,153.50" fill="none" stroke="#e3aaa8" stroke-width="1.0"/>
<line x1="655.16" y1="83.40" x2="655.16" y2="96.86" stroke="#e3aaa8" stroke-width="0.7"/>
<line x1="653.76" y1="96.86" x2="656.56" y2="96.86" stroke="#e3aaa8" stroke-width="0.7"/>
<circle cx="655.16" cy="82.00" r="1.50" fill="#fff" stroke="#e3aaa8" stroke-width="0.7"/>
<circle cx="653.96" cy="84.79" r="1.30" fill="none" stroke="#e3aaa8" stroke-width="0.5"/>
<circle cx="655.96" cy="93.89" r="1.30" fill="none" stroke="#e3aaa8" stroke-width="0.5"/>
<circle cx="656.66" cy="88.69" r="1.30" fill="none" stroke="#e3aaa8" stroke-width="0.5"/>
<line x1="655.16" y1="153.50" x2="655.16" y2="155.90" stroke="#333" stroke-width="1.0" shape-rendering="crispEdges"/>
<text x="657.16" y="151.60" font-size="5.6" fill="#444" transform="rotate(-90 657.16 151.60)">0.6882</text>
<text x="657.46" y="156.30" font-size="8.6" text-anchor="end" transform="rotate(-90 657.46 156.30)" stroke="#111" stroke-width="0.25">USP34</text>
<rect x="661.19" y="90.69" width="6.80" height="62.81" fill="#fcfcfc" stroke="none" stroke-width="1"/>
<path d="M661.19,153.50 L661.19,90.69 L667.99,90.69 L667.99,153.50" fill="none" stroke="#e0a6a4" stroke-width="1.0"/>
<line x1="664.59" y1="87.87" x2="664.59" y2="94.90" stroke="#e0a6a4" stroke-width="0.7"/>
<line x1="663.19" y1="94.90" x2="665.99" y2="94.90" stroke="#e0a6a4" stroke-width="0.7"/>
<circle cx="664.59" cy="86.47" r="1.50" fill="#fff" stroke="#e0a6a4" stroke-width="0.7"/>
<circle cx="663.39" cy="89.26" r="1.30" fill="none" stroke="#e0a6a4" stroke-width="0.5"/>
<circle cx="665.39" cy="93.22" r="1.30" fill="none" stroke="#e0a6a4" stroke-width="0.5"/>
<circle cx="666.09" cy="90.26" r="1.30" fill="none" stroke="#e0a6a4" stroke-width="0.5"/>
<line x1="664.59" y1="153.50" x2="664.59" y2="155.90" stroke="#333" stroke-width="1.0" shape-rendering="crispEdges"/>
<text x="666.59" y="151.60" font-size="5.6" fill="#444" transform="rotate(-90 666.59 151.60)">0.6747</text>
<text x="666.89" y="156.30" font-size="8.6" text-anchor="end" transform="rotate(-90 666.89 156.30)" stroke="#111" stroke-width="0.25">OTUD4</text>
<rect x="670.62" y="111.78" width="6.80" height="41.72" fill="#fcfcfc" stroke="none" stroke-width="1"/>
<path d="M670.62,153.50 L670.62,111.78 L677.42,111.78 L677.42,153.50" fill="none" stroke="#b0534b" stroke-width="1.3"/>
<line x1="674.02" y1="104.91" x2="674.02" y2="120.06" stroke="#b0534b" stroke-width="0.7"/>
<line x1="672.62" y1="120.06" x2="675.42" y2="120.06" stroke="#b0534b" stroke-width="0.7"/>
<circle cx="674.02" cy="103.51" r="1.50" fill="#fff" stroke="#b0534b" stroke-width="0.7"/>
<circle cx="672.82" cy="106.30" r="1.30" fill="none" stroke="#b0534b" stroke-width="0.5"/>
<circle cx="674.82" cy="116.75" r="1.30" fill="none" stroke="#b0534b" stroke-width="0.5"/>
<circle cx="675.52" cy="110.95" r="1.30" fill="none" stroke="#b0534b" stroke-width="0.5"/>
<line x1="674.02" y1="153.50" x2="674.02" y2="155.90" stroke="#333" stroke-width="1.0" shape-rendering="crispEdges"/>
<text x="676.02" y="151.60" font-size="5.6" fill="#444" transform="rotate(-90 676.02 151.60)">0.4481</text>
<text x="676.32" y="156.30" font-size="8.6" text-anchor="end" transform="rotate(-90 676.32 156.30)" stroke="#111" stroke-width="0.25">USP9X</text>
<line x1="440.30" y1="153.50" x2="678.50" y2="153.50" stroke="#333" stroke-width="1.0" shape-rendering="crispEdges"/>
<text x="2.50" y="218.60" font-size="18" font-weight="bold" fill="#000" stroke="#000" stroke-width="0.25">c</text>
<text x="101.50" y="220.20" font-size="10.0" text-anchor="middle" font-weight="bold" stroke="#111" stroke-width="0.25">TPCPA-BRCA TNBC</text>
<text x="102.60" y="233.40" font-size="10.0" text-anchor="middle" stroke="#111" stroke-width="0.25">(N = 61)</text>
<path d="M37.4,297.2 L40.6,297.1 L43.9,297.0 L47.1,296.8 L50.4,296.7 L53.6,296.6 L56.9,296.5 L60.1,296.3 L63.4,296.2 L66.6,296.0 L69.9,295.9 L73.1,295.7 L76.4,295.6 L79.6,295.4 L82.9,295.2 L86.1,295.1 L89.4,294.9 L92.6,294.7 L95.9,294.4 L99.1,294.2 L102.3,293.9 L105.6,293.6 L108.8,293.3 L112.1,293.0 L115.3,292.5 L118.6,292.1 L121.8,291.6 L125.1,291.0 L128.3,290.4 L131.6,289.7 L134.8,289.0 L138.1,288.2 L141.3,287.4 L144.6,286.6 L147.8,285.7 L151.1,284.8 L154.3,284.0 L157.6,283.1 L160.8,282.1 L164.1,281.2 L167.3,280.3 L167.3,294.5 L164.1,294.7 L160.8,294.9 L157.6,295.0 L154.3,295.2 L151.1,295.4 L147.8,295.7 L144.6,295.9 L141.3,296.2 L138.1,296.5 L134.8,296.8 L131.6,297.2 L128.3,297.6 L125.1,298.0 L121.8,298.6 L118.6,299.1 L115.3,299.8 L112.1,300.5 L108.8,301.2 L105.6,302.0 L102.3,302.8 L99.1,303.6 L95.9,304.4 L92.6,305.3 L89.4,306.2 L86.1,307.1 L82.9,308.0 L79.6,309.0 L76.4,309.9 L73.1,310.8 L69.9,311.8 L66.6,312.7 L63.4,313.7 L60.1,314.6 L56.9,315.6 L53.6,316.5 L50.4,317.5 L47.1,318.5 L43.9,319.4 L40.6,320.4 L37.4,321.4 Z" fill="#f1ecea" stroke="none" stroke-width="1"/>
<line x1="37.40" y1="309.30" x2="167.30" y2="287.40" stroke="#b65a45" stroke-width="2.0"/>
<circle cx="117.56" cy="263.28" r="1.60" fill="#27308a" stroke="none" stroke-width="1"/>
<circle cx="117.56" cy="271.60" r="1.60" fill="#27308a" stroke="none" stroke-width="1"/>
<circle cx="62.38" cy="275.54" r="1.60" fill="#27308a" stroke="none" stroke-width="1"/>
<circle cx="133.98" cy="273.79" r="1.60" fill="#27308a" stroke="none" stroke-width="1"/>
<circle cx="149.52" cy="274.45" r="1.60" fill="#27308a" stroke="none" stroke-width="1"/>
<circle cx="108.36" cy="278.39" r="1.60" fill="#27308a" stroke="none" stroke-width="1"/>
<circle cx="104.64" cy="280.36" r="1.60" fill="#27308a" stroke="none" stroke-width="1"/>
<circle cx="113.18" cy="281.24" r="1.60" fill="#27308a" stroke="none" stroke-width="1"/>
<circle cx="89.31" cy="282.77" r="1.60" fill="#27308a" stroke="none" stroke-width="1"/>
<circle cx="134.63" cy="279.70" r="1.60" fill="#27308a" stroke="none" stroke-width="1"/>
<circle cx="147.99" cy="279.27" r="1.60" fill="#27308a" stroke="none" stroke-width="1"/>
<circle cx="117.77" cy="282.55" r="1.60" fill="#27308a" stroke="none" stroke-width="1"/>
<circle cx="122.59" cy="281.68" r="1.60" fill="#27308a" stroke="none" stroke-width="1"/>
<circle cx="119.53" cy="283.86" r="1.60" fill="#27308a" stroke="none" stroke-width="1"/>
<circle cx="121.28" cy="286.49" r="1.60" fill="#27308a" stroke="none" stroke-width="1"/>
<circle cx="117.99" cy="286.27" r="1.60" fill="#27308a" stroke="none" stroke-width="1"/>
<circle cx="108.58" cy="285.84" r="1.60" fill="#27308a" stroke="none" stroke-width="1"/>
<circle cx="110.77" cy="286.27" r="1.60" fill="#27308a" stroke="none" stroke-width="1"/>
<circle cx="130.91" cy="285.40" r="1.60" fill="#27308a" stroke="none" stroke-width="1"/>
<circle cx="130.04" cy="289.12" r="1.60" fill="#27308a" stroke="none" stroke-width="1"/>
<circle cx="140.11" cy="286.05" r="1.60" fill="#27308a" stroke="none" stroke-width="1"/>
<circle cx="147.55" cy="287.37" r="1.60" fill="#27308a" stroke="none" stroke-width="1"/>
<circle cx="149.74" cy="289.12" r="1.60" fill="#27308a" stroke="none" stroke-width="1"/>
<circle cx="166.60" cy="287.37" r="1.60" fill="#27308a" stroke="none" stroke-width="1"/>
<circle cx="102.45" cy="291.53" r="1.60" fill="#27308a" stroke="none" stroke-width="1"/>
<circle cx="137.04" cy="291.75" r="1.60" fill="#27308a" stroke="none" stroke-width="1"/>
<circle cx="128.50" cy="293.28" r="1.60" fill="#27308a" stroke="none" stroke-width="1"/>
<circle cx="96.75" cy="296.35" r="1.60" fill="#27308a" stroke="none" stroke-width="1"/>
<circle cx="116.68" cy="296.13" r="1.60" fill="#27308a" stroke="none" stroke-width="1"/>
<circle cx="124.34" cy="295.25" r="1.60" fill="#27308a" stroke="none" stroke-width="1"/>
<circle cx="130.26" cy="296.13" r="1.60" fill="#27308a" stroke="none" stroke-width="1"/>
<circle cx="152.81" cy="293.94" r="1.60" fill="#27308a" stroke="none" stroke-width="1"/>
<circle cx="154.34" cy="295.25" r="1.60" fill="#27308a" stroke="none" stroke-width="1"/>
<circle cx="165.51" cy="295.25" r="1.60" fill="#27308a" stroke="none" stroke-width="1"/>
<circle cx="88.87" cy="298.97" r="1.60" fill="#27308a" stroke="none" stroke-width="1"/>
<circle cx="87.12" cy="301.16" r="1.60" fill="#27308a" stroke="none" stroke-width="1"/>
<circle cx="142.08" cy="298.54" r="1.60" fill="#27308a" stroke="none" stroke-width="1"/>
<circle cx="142.30" cy="301.16" r="1.60" fill="#27308a" stroke="none" stroke-width="1"/>
<circle cx="129.60" cy="301.38" r="1.60" fill="#27308a" stroke="none" stroke-width="1"/>
<circle cx="128.94" cy="304.45" r="1.60" fill="#27308a" stroke="none" stroke-width="1"/>
<circle cx="107.92" cy="303.13" r="1.60" fill="#27308a" stroke="none" stroke-width="1"/>
<circle cx="139.23" cy="306.20" r="1.60" fill="#27308a" stroke="none" stroke-width="1"/>
<circle cx="84.05" cy="306.86" r="1.60" fill="#27308a" stroke="none" stroke-width="1"/>
<circle cx="43.11" cy="307.07" r="1.60" fill="#27308a" stroke="none" stroke-width="1"/>
<circle cx="126.31" cy="309.26" r="1.60" fill="#27308a" stroke="none" stroke-width="1"/>
<circle cx="86.68" cy="315.83" r="1.60" fill="#27308a" stroke="none" stroke-width="1"/>
<circle cx="127.19" cy="314.74" r="1.60" fill="#27308a" stroke="none" stroke-width="1"/>
<circle cx="135.29" cy="314.08" r="1.60" fill="#27308a" stroke="none" stroke-width="1"/>
<circle cx="98.29" cy="318.24" r="1.60" fill="#27308a" stroke="none" stroke-width="1"/>
<circle cx="123.69" cy="319.77" r="1.60" fill="#27308a" stroke="none" stroke-width="1"/>
<circle cx="139.89" cy="320.21" r="1.60" fill="#27308a" stroke="none" stroke-width="1"/>
<circle cx="37.42" cy="323.72" r="1.60" fill="#27308a" stroke="none" stroke-width="1"/>
<circle cx="46.61" cy="327.66" r="1.60" fill="#27308a" stroke="none" stroke-width="1"/>
<circle cx="93.69" cy="327.22" r="1.60" fill="#27308a" stroke="none" stroke-width="1"/>
<circle cx="116.02" cy="363.13" r="1.60" fill="#27308a" stroke="none" stroke-width="1"/>
<circle cx="88.43" cy="301.16" r="1.60" fill="#27308a" stroke="none" stroke-width="1"/>
<circle cx="103.10" cy="291.97" r="1.60" fill="#27308a" stroke="none" stroke-width="1"/>
<circle cx="128.94" cy="296.35" r="1.60" fill="#27308a" stroke="none" stroke-width="1"/>
<rect x="31.10" y="237.70" width="142.30" height="141.20" fill="none" stroke="#333" stroke-width="0.8"/>
<text x="167.3" y="249.8" font-size="9.8" text-anchor="end" fill="#111" stroke="#111" stroke-width="0.25"><tspan font-style="italic">R</tspan> = 0.28, <tspan font-style="italic">P</tspan> = 0.031</text>
<line x1="28.60" y1="262.80" x2="31.10" y2="262.80" stroke="#333" stroke-width="1.0" shape-rendering="crispEdges"/>
<text x="26.90" y="266.10" font-size="9.5" text-anchor="end" stroke="#111" stroke-width="0.25">2</text>
<line x1="28.60" y1="296.10" x2="31.10" y2="296.10" stroke="#333" stroke-width="1.0" shape-rendering="crispEdges"/>
<text x="26.90" y="299.40" font-size="9.5" text-anchor="end" stroke="#111" stroke-width="0.25">0</text>
<line x1="28.60" y1="329.40" x2="31.10" y2="329.40" stroke="#333" stroke-width="1.0" shape-rendering="crispEdges"/>
<text x="26.90" y="332.70" font-size="9.5" text-anchor="end" stroke="#111" stroke-width="0.25">−2</text>
<line x1="28.60" y1="362.70" x2="31.10" y2="362.70" stroke="#333" stroke-width="1.0" shape-rendering="crispEdges"/>
<text x="26.90" y="366.00" font-size="9.5" text-anchor="end" stroke="#111" stroke-width="0.25">−4</text>
<line x1="33.90" y1="378.90" x2="33.90" y2="381.40" stroke="#333" stroke-width="1.0" shape-rendering="crispEdges"/>
<text x="33.90" y="391.10" font-size="9.5" text-anchor="middle" stroke="#111" stroke-width="0.25">−3</text>
<line x1="61.80" y1="378.90" x2="61.80" y2="381.40" stroke="#333" stroke-width="1.0" shape-rendering="crispEdges"/>
<text x="61.80" y="391.10" font-size="9.5" text-anchor="middle" stroke="#111" stroke-width="0.25">−2</text>
<line x1="89.70" y1="378.90" x2="89.70" y2="381.40" stroke="#333" stroke-width="1.0" shape-rendering="crispEdges"/>
<text x="89.70" y="391.10" font-size="9.5" text-anchor="middle" stroke="#111" stroke-width="0.25">−1</text>
<line x1="117.60" y1="378.90" x2="117.60" y2="381.40" stroke="#333" stroke-width="1.0" shape-rendering="crispEdges"/>
<text x="117.60" y="391.10" font-size="9.5" text-anchor="middle" stroke="#111" stroke-width="0.25">0</text>
<line x1="145.50" y1="378.90" x2="145.50" y2="381.40" stroke="#333" stroke-width="1.0" shape-rendering="crispEdges"/>
<text x="145.50" y="391.10" font-size="9.5" text-anchor="middle" stroke="#111" stroke-width="0.25">1</text>
<text x="102.00" y="404.70" font-size="9.85" text-anchor="middle" stroke="#111" stroke-width="0.25">Scaled USP9X protein intensity</text>
<text x="9.80" y="307.50" font-size="9.8" text-anchor="middle" transform="rotate(-90 9.80 307.50)" stroke="#111" stroke-width="0.25">Scaled IGF2BP2 protein intensity</text>
<text x="175.30" y="220.40" font-size="18" font-weight="bold" fill="#000" stroke="#000" stroke-width="0.25">d</text>
<text x="192.70" y="228.70" font-size="10.7" font-weight="bold" stroke="#111" stroke-width="0.25">FUSCC TNBC cohort</text>
<text x="199.50" y="309.00" font-size="11.1" text-anchor="middle" transform="rotate(-90 199.50 309.00)" stroke="#111" stroke-width="0.25">IGF2BP2 activity GSVA score</text>
<line x1="228.90" y1="242.50" x2="228.90" y2="373.30" stroke="#333" stroke-width="1.0" shape-rendering="crispEdges"/>
<line x1="228.90" y1="372.80" x2="292.60" y2="372.80" stroke="#333" stroke-width="1.0" shape-rendering="crispEdges"/>
<line x1="223.60" y1="242.80" x2="228.90" y2="242.80" stroke="#333" stroke-width="1.0" shape-rendering="crispEdges"/>
<text x="221.20" y="246.20" font-size="9.7" text-anchor="end" stroke="#111" stroke-width="0.25">1.0</text>
<line x1="223.60" y1="275.30" x2="228.90" y2="275.30" stroke="#333" stroke-width="1.0" shape-rendering="crispEdges"/>
<text x="221.20" y="278.70" font-size="9.7" text-anchor="end" stroke="#111" stroke-width="0.25">0.5</text>
<line x1="223.60" y1="307.80" x2="228.90" y2="307.80" stroke="#333" stroke-width="1.0" shape-rendering="crispEdges"/>
<text x="221.20" y="311.20" font-size="9.7" text-anchor="end" stroke="#111" stroke-width="0.25">0.0</text>
<line x1="223.60" y1="340.30" x2="228.90" y2="340.30" stroke="#333" stroke-width="1.0" shape-rendering="crispEdges"/>
<text x="221.20" y="343.70" font-size="9.7" text-anchor="end" stroke="#111" stroke-width="0.25">-0.5</text>
<line x1="223.60" y1="372.80" x2="228.90" y2="372.80" stroke="#333" stroke-width="1.0" shape-rendering="crispEdges"/>
<text x="221.20" y="376.20" font-size="9.7" text-anchor="end" stroke="#111" stroke-width="0.25">-1.0</text>
<line x1="231.00" y1="307.80" x2="292.00" y2="307.80" stroke="#333" stroke-width="1.0" stroke-dasharray="1.2,1.8" shape-rendering="crispEdges"/>
<circle cx="246.50" cy="262.69" r="1.85" fill="#fff" stroke="#2b3a9a" stroke-width="1.2"/>
<circle cx="246.50" cy="264.62" r="1.85" fill="#fff" stroke="#2b3a9a" stroke-width="1.2"/>
<circle cx="246.50" cy="266.56" r="1.85" fill="#fff" stroke="#2b3a9a" stroke-width="1.2"/>
<circle cx="246.50" cy="268.49" r="1.85" fill="#fff" stroke="#2b3a9a" stroke-width="1.2"/>
<circle cx="246.50" cy="270.43" r="1.85" fill="#fff" stroke="#2b3a9a" stroke-width="1.2"/>
<circle cx="246.50" cy="274.00" r="1.85" fill="#fff" stroke="#2b3a9a" stroke-width="1.2"/>
<circle cx="246.50" cy="277.34" r="1.85" fill="#fff" stroke="#2b3a9a" stroke-width="1.2"/>
<circle cx="246.50" cy="280.67" r="1.85" fill="#fff" stroke="#2b3a9a" stroke-width="1.2"/>
<circle cx="246.50" cy="284.01" r="1.85" fill="#fff" stroke="#2b3a9a" stroke-width="1.2"/>
<circle cx="246.50" cy="286.61" r="1.85" fill="#fff" stroke="#2b3a9a" stroke-width="1.2"/>
<circle cx="246.50" cy="289.00" r="1.85" fill="#fff" stroke="#2b3a9a" stroke-width="1.2"/>
<circle cx="246.50" cy="291.40" r="1.85" fill="#fff" stroke="#2b3a9a" stroke-width="1.2"/>
<circle cx="246.50" cy="293.79" r="1.85" fill="#fff" stroke="#2b3a9a" stroke-width="1.2"/>
<circle cx="246.50" cy="296.19" r="1.85" fill="#fff" stroke="#2b3a9a" stroke-width="1.2"/>
<circle cx="246.50" cy="298.58" r="1.85" fill="#fff" stroke="#2b3a9a" stroke-width="1.2"/>
<circle cx="246.50" cy="300.98" r="1.85" fill="#fff" stroke="#2b3a9a" stroke-width="1.2"/>
<circle cx="246.50" cy="304.03" r="1.85" fill="#fff" stroke="#2b3a9a" stroke-width="1.2"/>
<circle cx="246.50" cy="308.00" r="1.85" fill="#fff" stroke="#2b3a9a" stroke-width="1.2"/>
<circle cx="246.50" cy="312.81" r="1.85" fill="#fff" stroke="#2b3a9a" stroke-width="1.2"/>
<circle cx="246.50" cy="315.44" r="1.85" fill="#fff" stroke="#2b3a9a" stroke-width="1.2"/>
<circle cx="246.50" cy="318.08" r="1.85" fill="#fff" stroke="#2b3a9a" stroke-width="1.2"/>
<circle cx="246.50" cy="320.72" r="1.85" fill="#fff" stroke="#2b3a9a" stroke-width="1.2"/>
<circle cx="246.50" cy="323.36" r="1.85" fill="#fff" stroke="#2b3a9a" stroke-width="1.2"/>
<circle cx="246.50" cy="326.00" r="1.85" fill="#fff" stroke="#2b3a9a" stroke-width="1.2"/>
<circle cx="246.50" cy="330.55" r="1.85" fill="#fff" stroke="#2b3a9a" stroke-width="1.2"/>
<circle cx="246.50" cy="332.08" r="1.85" fill="#fff" stroke="#2b3a9a" stroke-width="1.2"/>
<circle cx="246.50" cy="333.61" r="1.85" fill="#fff" stroke="#2b3a9a" stroke-width="1.2"/>
<circle cx="246.50" cy="335.15" r="1.85" fill="#fff" stroke="#2b3a9a" stroke-width="1.2"/>
<circle cx="246.50" cy="336.68" r="1.85" fill="#fff" stroke="#2b3a9a" stroke-width="1.2"/>
<circle cx="246.50" cy="338.21" r="1.85" fill="#fff" stroke="#2b3a9a" stroke-width="1.2"/>
<circle cx="246.50" cy="339.74" r="1.85" fill="#fff" stroke="#2b3a9a" stroke-width="1.2"/>
<circle cx="246.50" cy="341.28" r="1.85" fill="#fff" stroke="#2b3a9a" stroke-width="1.2"/>
<circle cx="246.50" cy="342.81" r="1.85" fill="#fff" stroke="#2b3a9a" stroke-width="1.2"/>
<circle cx="246.50" cy="344.34" r="1.85" fill="#fff" stroke="#2b3a9a" stroke-width="1.2"/>
<circle cx="246.50" cy="345.87" r="1.85" fill="#fff" stroke="#2b3a9a" stroke-width="1.2"/>
<circle cx="246.50" cy="347.40" r="1.85" fill="#fff" stroke="#2b3a9a" stroke-width="1.2"/>
<circle cx="246.50" cy="348.94" r="1.85" fill="#fff" stroke="#2b3a9a" stroke-width="1.2"/>
<circle cx="246.50" cy="350.47" r="1.85" fill="#fff" stroke="#2b3a9a" stroke-width="1.2"/>
<circle cx="246.50" cy="352.00" r="1.85" fill="#fff" stroke="#2b3a9a" stroke-width="1.2"/>
<path d="M271.90,271.00 L276.50,271.00 L274.20,274.80 Z" fill="#b5574a" stroke="none" stroke-width="1"/>
<path d="M271.90,274.90 L276.50,274.90 L274.20,278.70 Z" fill="#b5574a" stroke="none" stroke-width="1"/>
<path d="M271.90,276.74 L276.50,276.74 L274.20,280.54 Z" fill="#b5574a" stroke="none" stroke-width="1"/>
<path d="M271.90,278.58 L276.50,278.58 L274.20,282.38 Z" fill="#b5574a" stroke="none" stroke-width="1"/>
<path d="M271.90,280.42 L276.50,280.42 L274.20,284.22 Z" fill="#b5574a" stroke="none" stroke-width="1"/>
<path d="M271.90,282.26 L276.50,282.26 L274.20,286.06 Z" fill="#b5574a" stroke="none" stroke-width="1"/>
<path d="M271.90,284.10 L276.50,284.10 L274.20,287.90 Z" fill="#b5574a" stroke="none" stroke-width="1"/>
<path d="M271.90,285.94 L276.50,285.94 L274.20,289.74 Z" fill="#b5574a" stroke="none" stroke-width="1"/>
<path d="M271.90,287.78 L276.50,287.78 L274.20,291.58 Z" fill="#b5574a" stroke="none" stroke-width="1"/>
<path d="M271.90,289.62 L276.50,289.62 L274.20,293.42 Z" fill="#b5574a" stroke="none" stroke-width="1"/>
<path d="M271.90,291.46 L276.50,291.46 L274.20,295.26 Z" fill="#b5574a" stroke="none" stroke-width="1"/>
<path d="M271.90,293.30 L276.50,293.30 L274.20,297.10 Z" fill="#b5574a" stroke="none" stroke-width="1"/>
<path d="M271.90,295.70 L276.50,295.70 L274.20,299.50 Z" fill="#b5574a" stroke="none" stroke-width="1"/>
<path d="M271.90,299.60 L276.50,299.60 L274.20,303.40 Z" fill="#b5574a" stroke="none" stroke-width="1"/>
<path d="M271.90,302.59 L276.50,302.59 L274.20,306.39 Z" fill="#b5574a" stroke="none" stroke-width="1"/>
<path d="M271.90,304.49 L276.50,304.49 L274.20,308.29 Z" fill="#b5574a" stroke="none" stroke-width="1"/>
<path d="M271.90,306.39 L276.50,306.39 L274.20,310.19 Z" fill="#b5574a" stroke="none" stroke-width="1"/>
<path d="M271.90,308.29 L276.50,308.29 L274.20,312.09 Z" fill="#b5574a" stroke="none" stroke-width="1"/>
<path d="M271.90,310.19 L276.50,310.19 L274.20,313.99 Z" fill="#b5574a" stroke="none" stroke-width="1"/>
<path d="M271.90,312.09 L276.50,312.09 L274.20,315.89 Z" fill="#b5574a" stroke="none" stroke-width="1"/>
<path d="M271.90,313.99 L276.50,313.99 L274.20,317.79 Z" fill="#b5574a" stroke="none" stroke-width="1"/>
<path d="M271.90,315.89 L276.50,315.89 L274.20,319.69 Z" fill="#b5574a" stroke="none" stroke-width="1"/>
<path d="M271.90,317.79 L276.50,317.79 L274.20,321.59 Z" fill="#b5574a" stroke="none" stroke-width="1"/>
<path d="M271.90,319.69 L276.50,319.69 L274.20,323.49 Z" fill="#b5574a" stroke="none" stroke-width="1"/>
<path d="M271.90,321.59 L276.50,321.59 L274.20,325.39 Z" fill="#b5574a" stroke="none" stroke-width="1"/>
<path d="M271.90,323.49 L276.50,323.49 L274.20,327.29 Z" fill="#b5574a" stroke="none" stroke-width="1"/>
<path d="M271.90,325.39 L276.50,325.39 L274.20,329.19 Z" fill="#b5574a" stroke="none" stroke-width="1"/>
<path d="M271.90,327.29 L276.50,327.29 L274.20,331.09 Z" fill="#b5574a" stroke="none" stroke-width="1"/>
<path d="M271.90,330.28 L276.50,330.28 L274.20,334.08 Z" fill="#b5574a" stroke="none" stroke-width="1"/>
<path d="M271.90,332.05 L276.50,332.05 L274.20,335.85 Z" fill="#b5574a" stroke="none" stroke-width="1"/>
<path d="M271.90,333.83 L276.50,333.83 L274.20,337.63 Z" fill="#b5574a" stroke="none" stroke-width="1"/>
<path d="M271.90,335.60 L276.50,335.60 L274.20,339.40 Z" fill="#b5574a" stroke="none" stroke-width="1"/>
<path d="M271.90,337.37 L276.50,337.37 L274.20,341.17 Z" fill="#b5574a" stroke="none" stroke-width="1"/>
<path d="M271.90,339.15 L276.50,339.15 L274.20,342.95 Z" fill="#b5574a" stroke="none" stroke-width="1"/>
<path d="M271.90,340.92 L276.50,340.92 L274.20,344.72 Z" fill="#b5574a" stroke="none" stroke-width="1"/>
<path d="M271.90,342.69 L276.50,342.69 L274.20,346.50 Z" fill="#b5574a" stroke="none" stroke-width="1"/>
<path d="M271.90,350.30 L276.50,350.30 L274.20,354.10 Z" fill="#b5574a" stroke="none" stroke-width="1"/>
<line x1="238.00" y1="304.88" x2="255.40" y2="304.88" stroke="#2f3f9e" stroke-width="1.4"/>
<line x1="265.10" y1="316.25" x2="283.20" y2="316.25" stroke="#b5574a" stroke-width="1.4"/>
<path d="M246.5,256 L246.5,248.6 L274.2,248.6 L274.2,264.4" fill="none" stroke="#333" stroke-width="0.8"/>
<text x="260.30" y="246.80" font-size="13" text-anchor="middle" stroke="#111" stroke-width="0.25">*</text>
<text x="248.40" y="365.80" font-size="8.9" text-anchor="middle" stroke="#111" stroke-width="0.25">n = 39</text>
<text x="279.40" y="365.80" font-size="8.9" text-anchor="middle" stroke="#111" stroke-width="0.25">n = 37</text>
<line x1="246.50" y1="372.80" x2="246.50" y2="377.30" stroke="#333" stroke-width="1.0" shape-rendering="crispEdges"/>
<line x1="274.20" y1="372.80" x2="274.20" y2="377.30" stroke="#333" stroke-width="1.0" shape-rendering="crispEdges"/>
<text x="249.8" y="385.0" font-size="10.2" text-anchor="end" fill="#111" stroke="#111" stroke-width="0.25" transform="rotate(-45 249.8 385.0)">USP9X<tspan font-size="7.2" dy="-4.4">High</tspan></text>
<text x="277.5" y="385.0" font-size="10.2" text-anchor="end" fill="#111" stroke="#111" stroke-width="0.25" transform="rotate(-45 277.5 385.0)">USP9X<tspan font-size="7.2" dy="-4.4">Low</tspan></text>
<text x="317.20" y="220.80" font-size="18" font-weight="bold" fill="#000" stroke="#000" stroke-width="0.25">e</text>
<line x1="339.20" y1="236.00" x2="339.20" y2="372.40" stroke="#333" stroke-width="1.0" shape-rendering="crispEdges"/>
<line x1="334.40" y1="372.40" x2="339.20" y2="372.40" stroke="#333" stroke-width="1.0" shape-rendering="crispEdges"/>
<text x="332.00" y="376.00" font-size="10.0" text-anchor="end" stroke="#111" stroke-width="0.25">0.0</text>
<line x1="334.40" y1="338.30" x2="339.20" y2="338.30" stroke="#333" stroke-width="1.0" shape-rendering="crispEdges"/>
<text x="332.00" y="341.90" font-size="10.0" text-anchor="end" stroke="#111" stroke-width="0.25">0.5</text>
<line x1="334.40" y1="304.20" x2="339.20" y2="304.20" stroke="#333" stroke-width="1.0" shape-rendering="crispEdges"/>
<text x="332.00" y="307.80" font-size="10.0" text-anchor="end" stroke="#111" stroke-width="0.25">1.0</text>
<line x1="334.40" y1="270.10" x2="339.20" y2="270.10" stroke="#333" stroke-width="1.0" shape-rendering="crispEdges"/>
<text x="332.00" y="273.70" font-size="10.0" text-anchor="end" stroke="#111" stroke-width="0.25">1.5</text>
<line x1="334.40" y1="236.00" x2="339.20" y2="236.00" stroke="#333" stroke-width="1.0" shape-rendering="crispEdges"/>
<text x="332.00" y="239.60" font-size="10.0" text-anchor="end" stroke="#111" stroke-width="0.25">2.0</text>
<text x="308.40" y="304.50" font-size="9.6" text-anchor="middle" transform="rotate(-90 308.40 304.50)" stroke="#111" stroke-width="0.25">Relative  expression</text>
<text x="374.40" y="226.70" font-size="9.4" text-anchor="middle" stroke="#111" stroke-width="0.25">MDA-MB-231</text>
<rect x="342.60" y="236.30" width="13.40" height="4.40" fill="none" stroke="#3441a0" stroke-width="1.4"/>
<text x="364.30" y="241.50" font-size="9.1" stroke="#111" stroke-width="0.25">shRNA-NC</text>
<rect x="342.60" y="252.10" width="13.40" height="4.40" fill="none" stroke="#b5574a" stroke-width="1.4"/>
<text x="364.30" y="257.30" font-size="9.1" stroke="#111" stroke-width="0.25">shUSP9X</text>
<rect x="345.30" y="304.20" width="8.80" height="68.20" fill="#fff" stroke="none" stroke-width="1"/>
<path d="M345.30,372.40 L345.30,304.20 L354.10,304.20 L354.10,372.40" fill="none" stroke="#3441a0" stroke-width="1.3"/>
<line x1="349.70" y1="304.20" x2="349.70" y2="296.70" stroke="#3441a0" stroke-width="1.3"/>
<circle cx="349.70" cy="296.70" r="2.40" fill="none" stroke="#3441a0" stroke-width="1.3"/>
<circle cx="349.10" cy="304.20" r="2.40" fill="none" stroke="#3441a0" stroke-width="1.3"/>
<circle cx="349.70" cy="308.97" r="2.40" fill="none" stroke="#3441a0" stroke-width="1.3"/>
<rect x="355.20" y="356.99" width="8.80" height="15.41" fill="#fff" stroke="none" stroke-width="1"/>
<path d="M355.20,372.40 L355.20,356.99 L364.00,356.99 L364.00,372.40" fill="none" stroke="#b5574a" stroke-width="1.3"/>
<circle cx="360.20" cy="353.99" r="2.40" fill="none" stroke="#b5574a" stroke-width="1.3"/>
<circle cx="358.20" cy="355.35" r="2.40" fill="none" stroke="#b5574a" stroke-width="1.3"/>
<circle cx="361.20" cy="357.40" r="2.40" fill="none" stroke="#b5574a" stroke-width="1.3"/>
<line x1="354.60" y1="372.40" x2="354.60" y2="376.20" stroke="#333" stroke-width="1.0" shape-rendering="crispEdges"/>
<text x="357.90" y="385.40" font-size="10" text-anchor="end" fill="#111" stroke="#111" stroke-width="0.25" transform="rotate(-45 357.90 385.40)">USP9X</text>
<rect x="376.10" y="304.20" width="8.80" height="68.20" fill="#fff" stroke="none" stroke-width="1"/>
<path d="M376.10,372.40 L376.10,304.20 L384.90,304.20 L384.90,372.40" fill="none" stroke="#3441a0" stroke-width="1.3"/>
<line x1="380.50" y1="304.20" x2="380.50" y2="287.15" stroke="#3441a0" stroke-width="1.3"/>
<circle cx="380.50" cy="287.15" r="2.40" fill="none" stroke="#3441a0" stroke-width="1.3"/>
<circle cx="378.30" cy="308.29" r="2.40" fill="none" stroke="#3441a0" stroke-width="1.3"/>
<circle cx="382.30" cy="304.88" r="2.40" fill="none" stroke="#3441a0" stroke-width="1.3"/>
<rect x="386.00" y="286.47" width="8.80" height="85.93" fill="#fff" stroke="none" stroke-width="1"/>
<path d="M386.00,372.40 L386.00,286.47 L394.80,286.47 L394.80,372.40" fill="none" stroke="#b5574a" stroke-width="1.3"/>
<line x1="390.40" y1="286.47" x2="390.40" y2="276.92" stroke="#b5574a" stroke-width="1.3"/>
<circle cx="390.40" cy="276.92" r="2.40" fill="none" stroke="#b5574a" stroke-width="1.3"/>
<circle cx="390.40" cy="283.74" r="2.40" fill="none" stroke="#b5574a" stroke-width="1.3"/>
<circle cx="390.40" cy="290.56" r="2.40" fill="none" stroke="#b5574a" stroke-width="1.3"/>
<line x1="385.40" y1="372.40" x2="385.40" y2="376.20" stroke="#333" stroke-width="1.0" shape-rendering="crispEdges"/>
<text x="388.70" y="385.40" font-size="10" text-anchor="end" fill="#111" stroke="#111" stroke-width="0.25" transform="rotate(-45 388.70 385.40)">IGF2BP2</text>
<line x1="339.20" y1="372.40" x2="398.70" y2="372.40" stroke="#333" stroke-width="1.0" shape-rendering="crispEdges"/>
<path d="M347.6,288.4 L347.6,282.4 L361.6,282.4 L361.6,343.7" fill="none" stroke="#333" stroke-width="0.9"/>
<circle cx="349.80" cy="275.20" r="1.15" fill="#222" stroke="none" stroke-width="1"/>
<circle cx="354.60" cy="275.20" r="1.15" fill="#222" stroke="none" stroke-width="1"/>
<circle cx="359.40" cy="275.20" r="1.15" fill="#222" stroke="none" stroke-width="1"/>
<line x1="446.30" y1="233.10" x2="446.30" y2="371.70" stroke="#333" stroke-width="1.0" shape-rendering="crispEdges"/>
<line x1="441.50" y1="371.70" x2="446.30" y2="371.70" stroke="#333" stroke-width="1.0" shape-rendering="crispEdges"/>
<text x="439.10" y="375.30" font-size="10.0" text-anchor="end" stroke="#111" stroke-width="0.25">0.0</text>
<line x1="441.50" y1="337.05" x2="446.30" y2="337.05" stroke="#333" stroke-width="1.0" shape-rendering="crispEdges"/>
<text x="439.10" y="340.65" font-size="10.0" text-anchor="end" stroke="#111" stroke-width="0.25">0.5</text>
<line x1="441.50" y1="302.40" x2="446.30" y2="302.40" stroke="#333" stroke-width="1.0" shape-rendering="crispEdges"/>
<text x="439.10" y="306.00" font-size="10.0" text-anchor="end" stroke="#111" stroke-width="0.25">1.0</text>
<line x1="441.50" y1="267.75" x2="446.30" y2="267.75" stroke="#333" stroke-width="1.0" shape-rendering="crispEdges"/>
<text x="439.10" y="271.35" font-size="10.0" text-anchor="end" stroke="#111" stroke-width="0.25">1.5</text>
<line x1="441.50" y1="233.10" x2="446.30" y2="233.10" stroke="#333" stroke-width="1.0" shape-rendering="crispEdges"/>
<text x="439.10" y="236.70" font-size="10.0" text-anchor="end" stroke="#111" stroke-width="0.25">2.0</text>
<text x="418.70" y="304.50" font-size="9.6" text-anchor="middle" transform="rotate(-90 418.70 304.50)" stroke="#111" stroke-width="0.25">Relative  expression</text>
<text x="488.80" y="227.00" font-size="9.4" text-anchor="middle" stroke="#111" stroke-width="0.25">Hs 578T</text>
<rect x="458.80" y="233.40" width="13.40" height="4.40" fill="none" stroke="#3441a0" stroke-width="1.4"/>
<text x="480.50" y="238.60" font-size="9.1" stroke="#111" stroke-width="0.25">shRNA-NC</text>
<rect x="458.80" y="249.20" width="13.40" height="4.40" fill="none" stroke="#b5574a" stroke-width="1.4"/>
<text x="480.50" y="254.40" font-size="9.1" stroke="#111" stroke-width="0.25">shUSP9X</text>
<rect x="452.40" y="302.40" width="8.80" height="69.30" fill="#fff" stroke="none" stroke-width="1"/>
<path d="M452.40,371.70 L452.40,302.40 L461.20,302.40 L461.20,371.70" fill="none" stroke="#3441a0" stroke-width="1.3"/>
<line x1="456.80" y1="302.40" x2="456.80" y2="285.77" stroke="#3441a0" stroke-width="1.3"/>
<circle cx="456.80" cy="285.77" r="2.40" fill="none" stroke="#3441a0" stroke-width="1.3"/>
<circle cx="456.80" cy="305.17" r="2.40" fill="none" stroke="#3441a0" stroke-width="1.3"/>
<circle cx="456.80" cy="314.18" r="2.40" fill="none" stroke="#3441a0" stroke-width="1.3"/>
<rect x="462.30" y="353.68" width="8.80" height="18.02" fill="#fff" stroke="none" stroke-width="1"/>
<path d="M462.30,371.70 L462.30,353.68 L471.10,353.68 L471.10,371.70" fill="none" stroke="#b5574a" stroke-width="1.3"/>
<circle cx="468.20" cy="351.60" r="2.40" fill="none" stroke="#b5574a" stroke-width="1.3"/>
<circle cx="465.70" cy="352.30" r="2.40" fill="none" stroke="#b5574a" stroke-width="1.3"/>
<circle cx="464.70" cy="355.07" r="2.40" fill="none" stroke="#b5574a" stroke-width="1.3"/>
<line x1="461.70" y1="371.70" x2="461.70" y2="375.50" stroke="#333" stroke-width="1.0" shape-rendering="crispEdges"/>
<text x="465.00" y="384.70" font-size="10" text-anchor="end" fill="#111" stroke="#111" stroke-width="0.25" transform="rotate(-45 465.00 384.70)">USP9X</text>
<rect x="483.90" y="302.40" width="8.80" height="69.30" fill="#fff" stroke="none" stroke-width="1"/>
<path d="M483.90,371.70 L483.90,302.40 L492.70,302.40 L492.70,371.70" fill="none" stroke="#3441a0" stroke-width="1.3"/>
<line x1="488.30" y1="302.40" x2="488.30" y2="292.28" stroke="#3441a0" stroke-width="1.3"/>
<circle cx="488.30" cy="292.28" r="2.40" fill="none" stroke="#3441a0" stroke-width="1.3"/>
<circle cx="488.30" cy="299.63" r="2.40" fill="none" stroke="#3441a0" stroke-width="1.3"/>
<circle cx="488.30" cy="313.49" r="2.40" fill="none" stroke="#3441a0" stroke-width="1.3"/>
<rect x="493.80" y="290.62" width="8.80" height="81.08" fill="#fff" stroke="none" stroke-width="1"/>
<path d="M493.80,371.70 L493.80,290.62 L502.60,290.62 L502.60,371.70" fill="none" stroke="#b5574a" stroke-width="1.3"/>
<line x1="498.20" y1="290.62" x2="498.20" y2="268.44" stroke="#b5574a" stroke-width="1.3"/>
<circle cx="498.20" cy="268.44" r="2.40" fill="none" stroke="#b5574a" stroke-width="1.3"/>
<circle cx="498.20" cy="289.93" r="2.40" fill="none" stroke="#b5574a" stroke-width="1.3"/>
<circle cx="498.20" cy="307.25" r="2.40" fill="none" stroke="#b5574a" stroke-width="1.3"/>
<line x1="493.20" y1="371.70" x2="493.20" y2="375.50" stroke="#333" stroke-width="1.0" shape-rendering="crispEdges"/>
<text x="496.50" y="384.70" font-size="10" text-anchor="end" fill="#111" stroke="#111" stroke-width="0.25" transform="rotate(-45 496.50 384.70)">IGF2BP2</text>
<line x1="446.30" y1="371.70" x2="505.80" y2="371.70" stroke="#333" stroke-width="1.0" shape-rendering="crispEdges"/>
<path d="M457.3,276.5 L457.3,271.5 L469.5,271.5 L469.5,343.0" fill="none" stroke="#333" stroke-width="0.9"/>
<circle cx="458.60" cy="264.30" r="1.15" fill="#222" stroke="none" stroke-width="1"/>
<circle cx="463.40" cy="264.30" r="1.15" fill="#222" stroke="none" stroke-width="1"/>
<circle cx="468.20" cy="264.30" r="1.15" fill="#222" stroke="none" stroke-width="1"/>
<text x="546.90" y="224.00" font-size="18" font-weight="bold" fill="#000" stroke="#000" stroke-width="0.25">f</text>
<text x="596.60" y="255.60" font-size="9.4" transform="rotate(-90 596.60 255.60)" stroke="#111" stroke-width="0.25">shRNA-NC</text>
<text x="625.60" y="254.60" font-size="9.4" transform="rotate(-90 625.60 254.60)" stroke="#111" stroke-width="0.25">shUSP9X</text>
<rect x="576.20" y="262.40" width="64.80" height="19.20" fill="#f7f7f7" stroke="#1f2a48" stroke-width="1.5"/>
<rect x="583.70" y="268.55" width="21.00" height="9.50" rx="2.20" fill="#0c0c0c" fill-opacity="1.00" filter="url(#bl2)"/>
<rect x="612.55" y="271.00" width="19.50" height="5.00" rx="2.20" fill="#0c0c0c" fill-opacity="0.97" filter="url(#bl2)"/>
<text x="537.00" y="275.90" font-size="9.5" stroke="#111" stroke-width="0.25">USP9X</text>
<text x="646.80" y="275.90" font-size="9.4" stroke="#111" stroke-width="0.25">292KDa</text>
<rect x="576.20" y="285.30" width="64.80" height="19.00" fill="#f7f7f7" stroke="#1f2a48" stroke-width="1.5"/>
<rect x="583.45" y="286.90" width="21.50" height="6.20" rx="2.20" fill="#0c0c0c" fill-opacity="1.00" filter="url(#bl2)"/>
<rect x="612.30" y="288.00" width="20.00" height="4.80" rx="2.20" fill="#0c0c0c" fill-opacity="0.92" filter="url(#bl2)"/>
<rect x="584.70" y="297.40" width="19.00" height="2.40" rx="1.20" fill="#0c0c0c" fill-opacity="0.50" filter="url(#bl2)"/>
<rect x="613.30" y="297.90" width="18.00" height="1.80" rx="0.90" fill="#0c0c0c" fill-opacity="0.25" filter="url(#bl2)"/>
<text x="537.00" y="298.70" font-size="9.5" stroke="#111" stroke-width="0.25">IGF2BP2</text>
<text x="646.80" y="298.70" font-size="9.4" stroke="#111" stroke-width="0.25">67KDa</text>
<rect x="576.20" y="308.40" width="64.80" height="18.60" fill="#f7f7f7" stroke="#1f2a48" stroke-width="1.5"/>
<rect x="583.45" y="314.80" width="21.50" height="6.40" rx="2.20" fill="#0c0c0c" fill-opacity="1.00" filter="url(#bl2)"/>
<rect x="612.55" y="314.80" width="19.50" height="6.40" rx="2.20" fill="#0c0c0c" fill-opacity="1.00" filter="url(#bl2)"/>
<text x="537.00" y="321.60" font-size="9.5" stroke="#111" stroke-width="0.25">β-Actin</text>
<text x="646.80" y="321.60" font-size="9.4" stroke="#111" stroke-width="0.25">42KDa</text>
<rect x="576.20" y="331.60" width="64.80" height="18.80" fill="#f7f7f7" stroke="#1f2a48" stroke-width="1.5"/>
<rect x="583.95" y="339.20" width="20.50" height="5.00" rx="2.20" fill="#0c0c0c" fill-opacity="1.00" filter="url(#bl2)"/>
<rect x="613.05" y="340.30" width="18.50" height="3.00" rx="1.50" fill="#0c0c0c" fill-opacity="0.85" filter="url(#bl2)"/>
<text x="537.00" y="344.90" font-size="9.5" stroke="#111" stroke-width="0.25">USP9X</text>
<text x="646.80" y="344.90" font-size="9.4" stroke="#111" stroke-width="0.25">292KDa</text>
<rect x="576.20" y="354.50" width="64.80" height="19.00" fill="#f7f7f7" stroke="#1f2a48" stroke-width="1.5"/>
<rect x="583.45" y="356.20" width="21.50" height="7.20" rx="2.20" fill="#0c0c0c" fill-opacity="1.00" filter="url(#bl2)"/>
<rect x="612.75" y="358.00" width="17.50" height="4.80" rx="2.20" fill="#0c0c0c" fill-opacity="0.90" filter="url(#bl2)"/>
<rect x="584.25" y="369.00" width="7.50" height="2.40" rx="1.20" fill="#0c0c0c" fill-opacity="0.75" filter="url(#bl2)"/>
<text x="537.00" y="367.90" font-size="9.5" stroke="#111" stroke-width="0.25">IGF2BP2</text>
<text x="646.80" y="367.90" font-size="9.4" stroke="#111" stroke-width="0.25">67KDa</text>
<rect x="576.20" y="377.40" width="64.80" height="19.00" fill="#f7f7f7" stroke="#1f2a48" stroke-width="1.5"/>
<rect x="583.45" y="384.20" width="21.50" height="6.40" rx="2.20" fill="#0c0c0c" fill-opacity="1.00" filter="url(#bl2)"/>
<rect x="612.55" y="383.85" width="19.50" height="7.50" rx="2.20" fill="#0c0c0c" fill-opacity="1.00" filter="url(#bl2)"/>
<text x="537.00" y="390.80" font-size="9.5" stroke="#111" stroke-width="0.25">β-Actin</text>
<text x="646.80" y="390.80" font-size="9.4" stroke="#111" stroke-width="0.25">42KDa</text>
<line x1="534.10" y1="266.50" x2="534.10" y2="325.90" stroke="#222" stroke-width="1.0"/>
<line x1="534.10" y1="336.00" x2="534.10" y2="393.00" stroke="#222" stroke-width="1.0"/>
<text x="528.60" y="294.90" font-size="9.4" text-anchor="middle" transform="rotate(-90 528.60 294.90)" stroke="#111" stroke-width="0.25">MDA-MB-231</text>
<text x="528.60" y="359.50" font-size="9.4" text-anchor="middle" transform="rotate(-90 528.60 359.50)" stroke="#111" stroke-width="0.25">Hs 578T</text>
<text x="4.50" y="425.30" font-size="18" font-weight="bold" fill="#000" stroke="#000" stroke-width="0.25">g</text>
<text x="47.50" y="449.00" font-size="10.1" text-anchor="end" stroke="#111" stroke-width="0.25">CHX</text>
<text x="47.50" y="461.30" font-size="10.1" text-anchor="end" stroke="#111" stroke-width="0.25">50 μg/ml</text>
<text x="136.80" y="428.60" font-size="10.1" text-anchor="middle" stroke="#111" stroke-width="0.25">MDA-MB-231</text>
<text x="315.50" y="429.80" font-size="10.1" text-anchor="middle" stroke="#111" stroke-width="0.25">Hs 578T</text>
<line x1="54.30" y1="448.00" x2="136.80" y2="448.00" stroke="#222" stroke-width="1.1"/>
<text x="100.10" y="445.30" font-size="10.1" text-anchor="middle" stroke="#111" stroke-width="0.25">shRNA-NC</text>
<line x1="141.90" y1="448.00" x2="225.10" y2="448.00" stroke="#222" stroke-width="1.1"/>
<text x="181.00" y="445.30" font-size="10.1" text-anchor="middle" stroke="#111" stroke-width="0.25">shUSP9X</text>
<line x1="229.80" y1="448.00" x2="312.00" y2="448.00" stroke="#222" stroke-width="1.1"/>
<text x="271.00" y="445.30" font-size="10.1" text-anchor="middle" stroke="#111" stroke-width="0.25">shRNA-NC</text>
<line x1="318.70" y1="448.00" x2="400.90" y2="448.00" stroke="#222" stroke-width="1.1"/>
<text x="359.50" y="445.30" font-size="10.1" text-anchor="middle" stroke="#111" stroke-width="0.25">shUSP9X</text>
<text x="64.80" y="461.30" font-size="10.1" text-anchor="middle" stroke="#111" stroke-width="0.25">0</text>
<text x="86.20" y="461.30" font-size="10.1" text-anchor="middle" stroke="#111" stroke-width="0.25">2</text>
<text x="106.50" y="461.30" font-size="10.1" text-anchor="middle" stroke="#111" stroke-width="0.25">4</text>
<text x="127.60" y="461.30" font-size="10.1" text-anchor="middle" stroke="#111" stroke-width="0.25">8</text>
<text x="150.00" y="461.30" font-size="10.1" text-anchor="middle" stroke="#111" stroke-width="0.25">0</text>
<text x="171.80" y="461.30" font-size="10.1" text-anchor="middle" stroke="#111" stroke-width="0.25">2</text>
<text x="192.40" y="461.30" font-size="10.1" text-anchor="middle" stroke="#111" stroke-width="0.25">4</text>
<text x="213.40" y="461.30" font-size="10.1" text-anchor="middle" stroke="#111" stroke-width="0.25">8</text>
<text x="240.00" y="461.30" font-size="10.1" text-anchor="middle" stroke="#111" stroke-width="0.25">0</text>
<text x="261.40" y="461.30" font-size="10.1" text-anchor="middle" stroke="#111" stroke-width="0.25">2</text>
<text x="282.20" y="461.30" font-size="10.1" text-anchor="middle" stroke="#111" stroke-width="0.25">4</text>
<text x="302.80" y="461.30" font-size="10.1" text-anchor="middle" stroke="#111" stroke-width="0.25">8</text>
<text x="327.30" y="461.30" font-size="10.1" text-anchor="middle" stroke="#111" stroke-width="0.25">0</text>
<text x="349.40" y="461.30" font-size="10.1" text-anchor="middle" stroke="#111" stroke-width="0.25">2</text>
<text x="369.30" y="461.30" font-size="10.1" text-anchor="middle" stroke="#111" stroke-width="0.25">4</text>
<text x="390.80" y="461.30" font-size="10.1" text-anchor="middle" stroke="#111" stroke-width="0.25">8</text>
<text x="414.70" y="461.30" font-size="10.1" text-anchor="middle" stroke="#111" stroke-width="0.25">(h)</text>
<text x="47.70" y="475.60" font-size="10.2" text-anchor="end" stroke="#111" stroke-width="0.25">USP9X</text>
<text x="47.70" y="494.60" font-size="10.2" text-anchor="end" stroke="#111" stroke-width="0.25">IGF2BP2</text>
<text x="47.70" y="513.80" font-size="10.2" text-anchor="end" stroke="#111" stroke-width="0.25">β-Actin</text>
<rect x="50.80" y="464.10" width="176.90" height="13.40" fill="#e3e3e3" stroke="#111" stroke-width="1.5"/>
<rect x="50.80" y="482.40" width="176.90" height="14.00" fill="#e3e3e3" stroke="#111" stroke-width="1.5"/>
<rect x="50.80" y="501.50" width="176.90" height="13.40" fill="#e3e3e3" stroke="#111" stroke-width="1.5"/>
<rect x="58.55" y="469.60" width="15.50" height="3.00" rx="1.50" fill="#0c0c0c" fill-opacity="1.00" filter="url(#bl3)"/>
<rect x="58.55" y="485.30" width="15.50" height="4.60" rx="2.20" fill="#0c0c0c" fill-opacity="1.00" filter="url(#bl3)"/>
<rect x="58.80" y="493.30" width="15.00" height="1.80" rx="0.90" fill="#0c0c0c" fill-opacity="0.28" filter="url(#bl3)"/>
<rect x="57.80" y="507.70" width="15.00" height="4.60" rx="2.20" fill="#0c0c0c" fill-opacity="1.00" filter="url(#bl3)"/>
<rect x="79.95" y="469.00" width="15.50" height="4.20" rx="2.10" fill="#0c0c0c" fill-opacity="1.00" filter="url(#bl3)"/>
<rect x="79.95" y="485.40" width="15.50" height="4.40" rx="2.20" fill="#0c0c0c" fill-opacity="1.00" filter="url(#bl3)"/>
<rect x="80.20" y="493.30" width="15.00" height="1.80" rx="0.90" fill="#0c0c0c" fill-opacity="0.28" filter="url(#bl3)"/>
<rect x="79.20" y="507.70" width="15.00" height="4.60" rx="2.20" fill="#0c0c0c" fill-opacity="1.00" filter="url(#bl3)"/>
<rect x="100.25" y="469.00" width="15.50" height="4.20" rx="2.10" fill="#0c0c0c" fill-opacity="1.00" filter="url(#bl3)"/>
<rect x="100.25" y="485.60" width="15.50" height="4.00" rx="2.00" fill="#0c0c0c" fill-opacity="0.95" filter="url(#bl3)"/>
<rect x="100.50" y="493.30" width="15.00" height="1.80" rx="0.90" fill="#0c0c0c" fill-opacity="0.28" filter="url(#bl3)"/>
<rect x="99.50" y="507.70" width="15.00" height="4.60" rx="2.20" fill="#0c0c0c" fill-opacity="1.00" filter="url(#bl3)"/>
<rect x="121.35" y="468.90" width="15.50" height="4.40" rx="2.20" fill="#0c0c0c" fill-opacity="1.00" filter="url(#bl3)"/>
<rect x="121.35" y="485.80" width="15.50" height="3.60" rx="1.80" fill="#0c0c0c" fill-opacity="0.85" filter="url(#bl3)"/>
<rect x="121.60" y="493.30" width="15.00" height="1.80" rx="0.90" fill="#0c0c0c" fill-opacity="0.28" filter="url(#bl3)"/>
<rect x="120.60" y="507.70" width="15.00" height="4.60" rx="2.20" fill="#0c0c0c" fill-opacity="1.00" filter="url(#bl3)"/>
<rect x="143.75" y="469.60" width="15.50" height="3.00" rx="1.50" fill="#0c0c0c" fill-opacity="0.55" filter="url(#bl3)"/>
<rect x="143.75" y="485.90" width="15.50" height="3.40" rx="1.70" fill="#0c0c0c" fill-opacity="0.60" filter="url(#bl3)"/>
<rect x="144.00" y="493.30" width="15.00" height="1.80" rx="0.90" fill="#0c0c0c" fill-opacity="0.10" filter="url(#bl3)"/>
<rect x="143.00" y="507.70" width="15.00" height="4.60" rx="2.20" fill="#0c0c0c" fill-opacity="1.00" filter="url(#bl3)"/>
<rect x="165.55" y="469.50" width="15.50" height="3.20" rx="1.60" fill="#0c0c0c" fill-opacity="0.60" filter="url(#bl3)"/>
<rect x="165.55" y="486.20" width="15.50" height="2.80" rx="1.40" fill="#0c0c0c" fill-opacity="0.40" filter="url(#bl3)"/>
<rect x="165.80" y="493.30" width="15.00" height="1.80" rx="0.90" fill="#0c0c0c" fill-opacity="0.10" filter="url(#bl3)"/>
<rect x="164.80" y="507.70" width="15.00" height="4.60" rx="2.20" fill="#0c0c0c" fill-opacity="1.00" filter="url(#bl3)"/>
<rect x="186.15" y="469.50" width="15.50" height="3.20" rx="1.60" fill="#0c0c0c" fill-opacity="0.60" filter="url(#bl3)"/>
<rect x="186.15" y="486.40" width="15.50" height="2.40" rx="1.20" fill="#0c0c0c" fill-opacity="0.20" filter="url(#bl3)"/>
<rect x="186.40" y="493.30" width="15.00" height="1.80" rx="0.90" fill="#0c0c0c" fill-opacity="0.10" filter="url(#bl3)"/>
<rect x="185.40" y="507.70" width="15.00" height="4.60" rx="2.20" fill="#0c0c0c" fill-opacity="1.00" filter="url(#bl3)"/>
<rect x="207.15" y="469.70" width="15.50" height="2.80" rx="1.40" fill="#0c0c0c" fill-opacity="0.45" filter="url(#bl3)"/>
<rect x="207.15" y="486.60" width="15.50" height="2.00" rx="1.00" fill="#0c0c0c" fill-opacity="0.07" filter="url(#bl3)"/>
<rect x="207.40" y="493.30" width="15.00" height="1.80" rx="0.90" fill="#0c0c0c" fill-opacity="0.10" filter="url(#bl3)"/>
<rect x="206.40" y="507.70" width="15.00" height="4.60" rx="2.20" fill="#0c0c0c" fill-opacity="1.00" filter="url(#bl3)"/>
<rect x="229.60" y="464.10" width="172.80" height="13.40" fill="#e3e3e3" stroke="#111" stroke-width="1.5"/>
<rect x="229.60" y="482.40" width="172.80" height="14.00" fill="#e3e3e3" stroke="#111" stroke-width="1.5"/>
<rect x="229.60" y="501.50" width="172.80" height="13.40" fill="#e3e3e3" stroke="#111" stroke-width="1.5"/>
<rect x="233.75" y="469.50" width="15.50" height="3.20" rx="1.60" fill="#0c0c0c" fill-opacity="1.00" filter="url(#bl3)"/>
<rect x="233.75" y="485.60" width="15.50" height="4.00" rx="2.00" fill="#0c0c0c" fill-opacity="1.00" filter="url(#bl3)"/>
<rect x="234.00" y="493.30" width="15.00" height="1.80" rx="0.90" fill="#0c0c0c" fill-opacity="0.28" filter="url(#bl3)"/>
<rect x="233.00" y="507.70" width="15.00" height="4.60" rx="2.20" fill="#0c0c0c" fill-opacity="1.00" filter="url(#bl3)"/>
<rect x="255.15" y="469.20" width="15.50" height="3.80" rx="1.90" fill="#0c0c0c" fill-opacity="1.00" filter="url(#bl3)"/>
<rect x="255.15" y="485.50" width="15.50" height="4.20" rx="2.10" fill="#0c0c0c" fill-opacity="1.00" filter="url(#bl3)"/>
<rect x="255.40" y="493.30" width="15.00" height="1.80" rx="0.90" fill="#0c0c0c" fill-opacity="0.28" filter="url(#bl3)"/>
<rect x="254.40" y="507.70" width="15.00" height="4.60" rx="2.20" fill="#0c0c0c" fill-opacity="1.00" filter="url(#bl3)"/>
<rect x="275.95" y="469.30" width="15.50" height="3.60" rx="1.80" fill="#0c0c0c" fill-opacity="1.00" filter="url(#bl3)"/>
<rect x="275.95" y="485.60" width="15.50" height="4.00" rx="2.00" fill="#0c0c0c" fill-opacity="1.00" filter="url(#bl3)"/>
<rect x="276.20" y="493.30" width="15.00" height="1.80" rx="0.90" fill="#0c0c0c" fill-opacity="0.28" filter="url(#bl3)"/>
<rect x="275.20" y="507.70" width="15.00" height="4.60" rx="2.20" fill="#0c0c0c" fill-opacity="1.00" filter="url(#bl3)"/>
<rect x="296.55" y="468.80" width="15.50" height="4.60" rx="2.20" fill="#0c0c0c" fill-opacity="1.00" filter="url(#bl3)"/>
<rect x="296.55" y="485.80" width="15.50" height="3.60" rx="1.80" fill="#0c0c0c" fill-opacity="0.90" filter="url(#bl3)"/>
<rect x="296.80" y="493.30" width="15.00" height="1.80" rx="0.90" fill="#0c0c0c" fill-opacity="0.28" filter="url(#bl3)"/>
<rect x="295.80" y="507.70" width="15.00" height="4.60" rx="2.20" fill="#0c0c0c" fill-opacity="1.00" filter="url(#bl3)"/>
<rect x="321.05" y="469.60" width="15.50" height="3.00" rx="1.50" fill="#0c0c0c" fill-opacity="0.55" filter="url(#bl3)"/>
<rect x="321.05" y="486.00" width="15.50" height="3.20" rx="1.60" fill="#0c0c0c" fill-opacity="0.80" filter="url(#bl3)"/>
<rect x="321.30" y="493.30" width="15.00" height="1.80" rx="0.90" fill="#0c0c0c" fill-opacity="0.10" filter="url(#bl3)"/>
<rect x="320.30" y="507.70" width="15.00" height="4.60" rx="2.20" fill="#0c0c0c" fill-opacity="1.00" filter="url(#bl3)"/>
<rect x="343.15" y="469.70" width="15.50" height="2.80" rx="1.40" fill="#0c0c0c" fill-opacity="0.50" filter="url(#bl3)"/>
<rect x="343.15" y="486.20" width="15.50" height="2.80" rx="1.40" fill="#0c0c0c" fill-opacity="0.35" filter="url(#bl3)"/>
<rect x="343.40" y="493.30" width="15.00" height="1.80" rx="0.90" fill="#0c0c0c" fill-opacity="0.10" filter="url(#bl3)"/>
<rect x="342.40" y="507.70" width="15.00" height="4.60" rx="2.20" fill="#0c0c0c" fill-opacity="1.00" filter="url(#bl3)"/>
<rect x="363.05" y="469.70" width="15.50" height="2.80" rx="1.40" fill="#0c0c0c" fill-opacity="0.50" filter="url(#bl3)"/>
<rect x="363.05" y="486.40" width="15.50" height="2.40" rx="1.20" fill="#0c0c0c" fill-opacity="0.20" filter="url(#bl3)"/>
<rect x="363.30" y="493.30" width="15.00" height="1.80" rx="0.90" fill="#0c0c0c" fill-opacity="0.10" filter="url(#bl3)"/>
<rect x="362.30" y="507.70" width="15.00" height="4.60" rx="2.20" fill="#0c0c0c" fill-opacity="1.00" filter="url(#bl3)"/>
<rect x="384.55" y="469.80" width="15.50" height="2.60" rx="1.30" fill="#0c0c0c" fill-opacity="0.40" filter="url(#bl3)"/>
<rect x="384.55" y="486.60" width="15.50" height="2.00" rx="1.00" fill="#0c0c0c" fill-opacity="0.08" filter="url(#bl3)"/>
<rect x="384.80" y="493.30" width="15.00" height="1.80" rx="0.90" fill="#0c0c0c" fill-opacity="0.10" filter="url(#bl3)"/>
<rect x="383.80" y="507.70" width="15.00" height="4.60" rx="2.20" fill="#0c0c0c" fill-opacity="1.00" filter="url(#bl3)"/>
<text x="405.50" y="475.00" font-size="10.1" stroke="#111" stroke-width="0.25">292KDa</text>
<text x="405.50" y="494.00" font-size="10.1" stroke="#111" stroke-width="0.25">67KDa</text>
<text x="405.50" y="512.40" font-size="10.1" stroke="#111" stroke-width="0.25">42KDa</text>
<text x="424.50" y="424.50" font-size="18" font-weight="bold" fill="#000" stroke="#000" stroke-width="0.25">i</text>
<text x="558.60" y="429.00" font-size="9.9" text-anchor="middle" stroke="#111" stroke-width="0.25">HEK 293T</text>
<text x="479.20" y="449.00" font-size="10.0" text-anchor="end" stroke="#111" stroke-width="0.25">CHX</text>
<text x="479.20" y="461.30" font-size="10.0" text-anchor="end" stroke="#111" stroke-width="0.25">50 μg/ml</text>
<line x1="482.40" y1="448.50" x2="556.10" y2="448.50" stroke="#222" stroke-width="1.1"/>
<text x="525.40" y="445.30" font-size="10.0" text-anchor="middle" stroke="#111" stroke-width="0.25">Vector</text>
<line x1="560.50" y1="448.50" x2="634.20" y2="448.50" stroke="#222" stroke-width="1.1"/>
<text x="600.30" y="445.30" font-size="10.0" text-anchor="middle" stroke="#111" stroke-width="0.25">Flag-USP9X</text>
<text x="492.20" y="460.90" font-size="10.0" text-anchor="middle" stroke="#111" stroke-width="0.25">0</text>
<text x="511.30" y="460.90" font-size="10.0" text-anchor="middle" stroke="#111" stroke-width="0.25">2</text>
<text x="529.10" y="460.90" font-size="10.0" text-anchor="middle" stroke="#111" stroke-width="0.25">4</text>
<text x="550.00" y="460.90" font-size="10.0" text-anchor="middle" stroke="#111" stroke-width="0.25">8</text>
<text x="569.00" y="460.90" font-size="10.0" text-anchor="middle" stroke="#111" stroke-width="0.25">0</text>
<text x="587.00" y="460.90" font-size="10.0" text-anchor="middle" stroke="#111" stroke-width="0.25">2</text>
<text x="606.00" y="460.90" font-size="10.0" text-anchor="middle" stroke="#111" stroke-width="0.25">4</text>
<text x="626.80" y="460.90" font-size="10.0" text-anchor="middle" stroke="#111" stroke-width="0.25">8</text>
<text x="647.50" y="460.90" font-size="10.0" text-anchor="middle" stroke="#111" stroke-width="0.25">(h)</text>
<text x="476.60" y="476.30" font-size="10.0" text-anchor="end" stroke="#111" stroke-width="0.25">FlAG</text>
<text x="476.60" y="494.40" font-size="10.0" text-anchor="end" stroke="#111" stroke-width="0.25">HIS</text>
<text x="476.60" y="513.70" font-size="10.0" text-anchor="end" stroke="#111" stroke-width="0.25">β-Actin</text>
<rect x="479.20" y="464.20" width="156.40" height="13.00" fill="#e6e6e6" stroke="#111" stroke-width="1.6"/>
<rect x="479.20" y="482.40" width="156.40" height="14.00" fill="#e6e6e6" stroke="#111" stroke-width="1.6"/>
<rect x="479.20" y="501.50" width="156.40" height="13.30" fill="#e6e6e6" stroke="#111" stroke-width="1.6"/>
<rect x="561.10" y="468.55" width="13.60" height="5.30" rx="2.20" fill="#0c0c0c" fill-opacity="1.00" filter="url(#bl3)"/>
<rect x="580.30" y="468.10" width="13.60" height="6.20" rx="2.20" fill="#0c0c0c" fill-opacity="1.00" filter="url(#bl3)"/>
<rect x="599.80" y="466.70" width="13.60" height="9.00" rx="2.20" fill="#0c0c0c" fill-opacity="1.00" filter="url(#bl3)"/>
<rect x="618.90" y="466.70" width="13.60" height="9.00" rx="2.20" fill="#0c0c0c" fill-opacity="1.00" filter="url(#bl3)"/>
<rect x="490.65" y="487.50" width="14.50" height="3.00" rx="1.50" fill="#0c0c0c" fill-opacity="1.00" filter="url(#bl3)"/>
<rect x="508.95" y="487.50" width="14.50" height="3.00" rx="1.50" fill="#0c0c0c" fill-opacity="0.95" filter="url(#bl3)"/>
<rect x="527.25" y="488.00" width="14.50" height="2.00" rx="1.00" fill="#0c0c0c" fill-opacity="0.60" filter="url(#bl3)"/>
<rect x="544.35" y="487.90" width="14.50" height="2.20" rx="1.10" fill="#0c0c0c" fill-opacity="0.50" filter="url(#bl3)"/>
<rect x="561.75" y="487.00" width="14.50" height="4.00" rx="2.00" fill="#0c0c0c" fill-opacity="1.00" filter="url(#bl3)"/>
<rect x="580.75" y="487.20" width="14.50" height="3.60" rx="1.80" fill="#0c0c0c" fill-opacity="0.95" filter="url(#bl3)"/>
<rect x="599.25" y="487.30" width="14.50" height="3.40" rx="1.70" fill="#0c0c0c" fill-opacity="0.95" filter="url(#bl3)"/>
<rect x="618.05" y="487.50" width="14.50" height="3.00" rx="1.50" fill="#0c0c0c" fill-opacity="0.95" filter="url(#bl3)"/>
<rect x="488.45" y="507.60" width="13.50" height="4.00" rx="2.00" fill="#0c0c0c" fill-opacity="1.00" filter="url(#bl3)"/>
<rect x="506.75" y="507.60" width="13.50" height="4.00" rx="2.00" fill="#0c0c0c" fill-opacity="1.00" filter="url(#bl3)"/>
<rect x="525.25" y="507.60" width="13.50" height="4.00" rx="2.00" fill="#0c0c0c" fill-opacity="1.00" filter="url(#bl3)"/>
<rect x="543.95" y="507.60" width="13.50" height="4.00" rx="2.00" fill="#0c0c0c" fill-opacity="1.00" filter="url(#bl3)"/>
<rect x="562.25" y="507.60" width="13.50" height="4.00" rx="2.00" fill="#0c0c0c" fill-opacity="1.00" filter="url(#bl3)"/>
<rect x="581.25" y="507.60" width="13.50" height="4.00" rx="2.00" fill="#0c0c0c" fill-opacity="1.00" filter="url(#bl3)"/>
<rect x="599.75" y="507.60" width="13.50" height="4.00" rx="2.00" fill="#0c0c0c" fill-opacity="1.00" filter="url(#bl3)"/>
<rect x="618.25" y="507.60" width="13.50" height="4.00" rx="2.00" fill="#0c0c0c" fill-opacity="1.00" filter="url(#bl3)"/>
<line x1="636.50" y1="476.70" x2="640.40" y2="476.70" stroke="#222" stroke-width="1.0"/>
<text x="641.60" y="476.40" font-size="10.0" stroke="#111" stroke-width="0.25">180KDa</text>
<line x1="636.50" y1="495.80" x2="640.40" y2="495.80" stroke="#222" stroke-width="1.0"/>
<text x="641.60" y="495.50" font-size="10.0" stroke="#111" stroke-width="0.25">55KDa</text>
<line x1="636.50" y1="514.50" x2="640.40" y2="514.50" stroke="#222" stroke-width="1.0"/>
<text x="641.60" y="514.20" font-size="10.0" stroke="#111" stroke-width="0.25">40KDa</text>
<text x="2.50" y="535.50" font-size="18" font-weight="bold" fill="#000" stroke="#000" stroke-width="0.25">h</text>
<line x1="54.60" y1="543.30" x2="54.60" y2="679.60" stroke="#333" stroke-width="1.0" shape-rendering="crispEdges"/>
<line x1="54.60" y1="679.60" x2="224.60" y2="679.60" stroke="#333" stroke-width="1.0" shape-rendering="crispEdges"/>
<line x1="50.10" y1="679.60" x2="54.60" y2="679.60" stroke="#333" stroke-width="1.0" shape-rendering="crispEdges"/>
<text x="48.60" y="683.10" font-size="9.7" text-anchor="end" stroke="#111" stroke-width="0.25">0.00</text>
<line x1="50.10" y1="656.93" x2="54.60" y2="656.93" stroke="#333" stroke-width="1.0" shape-rendering="crispEdges"/>
<text x="48.60" y="660.43" font-size="9.7" text-anchor="end" stroke="#111" stroke-width="0.25">0.25</text>
<line x1="50.10" y1="634.26" x2="54.60" y2="634.26" stroke="#333" stroke-width="1.0" shape-rendering="crispEdges"/>
<text x="48.60" y="637.76" font-size="9.7" text-anchor="end" stroke="#111" stroke-width="0.25">0.50</text>
<line x1="50.10" y1="611.60" x2="54.60" y2="611.60" stroke="#333" stroke-width="1.0" shape-rendering="crispEdges"/>
<text x="48.60" y="615.10" font-size="9.7" text-anchor="end" stroke="#111" stroke-width="0.25">0.75</text>
<line x1="50.10" y1="588.93" x2="54.60" y2="588.93" stroke="#333" stroke-width="1.0" shape-rendering="crispEdges"/>
<text x="48.60" y="592.43" font-size="9.7" text-anchor="end" stroke="#111" stroke-width="0.25">1.00</text>
<line x1="50.10" y1="566.26" x2="54.60" y2="566.26" stroke="#333" stroke-width="1.0" shape-rendering="crispEdges"/>
<text x="48.60" y="569.76" font-size="9.7" text-anchor="end" stroke="#111" stroke-width="0.25">1.25</text>
<line x1="50.10" y1="543.60" x2="54.60" y2="543.60" stroke="#333" stroke-width="1.0" shape-rendering="crispEdges"/>
<text x="48.60" y="547.10" font-size="9.7" text-anchor="end" stroke="#111" stroke-width="0.25">1.50</text>
<line x1="54.60" y1="679.60" x2="54.60" y2="683.40" stroke="#333" stroke-width="1.0" shape-rendering="crispEdges"/>
<text x="54.60" y="695.20" font-size="9.7" text-anchor="middle" stroke="#111" stroke-width="0.25">0</text>
<line x1="88.60" y1="679.60" x2="88.60" y2="683.40" stroke="#333" stroke-width="1.0" shape-rendering="crispEdges"/>
<text x="88.60" y="695.20" font-size="9.7" text-anchor="middle" stroke="#111" stroke-width="0.25">2</text>
<line x1="122.60" y1="679.60" x2="122.60" y2="683.40" stroke="#333" stroke-width="1.0" shape-rendering="crispEdges"/>
<text x="122.60" y="695.20" font-size="9.7" text-anchor="middle" stroke="#111" stroke-width="0.25">4</text>
<line x1="156.60" y1="679.60" x2="156.60" y2="683.40" stroke="#333" stroke-width="1.0" shape-rendering="crispEdges"/>
<text x="156.60" y="695.20" font-size="9.7" text-anchor="middle" stroke="#111" stroke-width="0.25">6</text>
<line x1="190.60" y1="679.60" x2="190.60" y2="683.40" stroke="#333" stroke-width="1.0" shape-rendering="crispEdges"/>
<text x="190.60" y="695.20" font-size="9.7" text-anchor="middle" stroke="#111" stroke-width="0.25">8</text>
<line x1="224.60" y1="679.60" x2="224.60" y2="683.40" stroke="#333" stroke-width="1.0" shape-rendering="crispEdges"/>
<text x="224.60" y="695.20" font-size="9.7" text-anchor="middle" stroke="#111" stroke-width="0.25">10</text>
<text x="139.60" y="709.10" font-size="9.7" text-anchor="middle" stroke="#111" stroke-width="0.25">Time (h)</text>
<text x="12.00" y="610.70" font-size="9.4" text-anchor="middle" transform="rotate(-90 12.00 610.70)" stroke="#111" stroke-width="0.25">Relative  IGF2BP2 levels</text>
<text x="63.80" y="550.60" font-size="9.7" stroke="#111" stroke-width="0.25">MDA-MB-231</text>
<path d="M54.6,602.1 L58.0,602.6 L61.4,603.2 L64.8,603.9 L68.2,604.5 L71.6,605.1 L75.0,605.8 L78.4,606.4 L81.8,607.1 L85.2,607.9 L88.6,608.6 L92.0,609.4 L95.4,610.2 L98.8,611.0 L102.2,611.9 L105.6,612.8 L109.0,613.8 L112.4,614.8 L115.8,615.8 L119.2,616.9 L122.6,618.0 L126.0,619.1 L129.4,620.3 L132.8,621.6 L136.2,622.8 L139.6,624.1 L143.0,625.5 L146.4,626.8 L149.8,628.2 L153.2,629.6 L156.6,631.0 L160.0,632.4 L163.4,633.9 L166.8,635.3 L170.2,636.8 L173.6,638.3 L177.0,639.8 L180.4,641.3 L183.8,642.8 L187.2,644.3 L190.6,645.8" fill="none" stroke="#3441a0" stroke-width="0.6" stroke-opacity="0.35" stroke-dasharray="1,1"/>
<path d="M54.6,576.8 L58.0,578.3 L61.4,579.8 L64.8,581.3 L68.2,582.7 L71.6,584.1 L75.0,585.5 L78.4,586.9 L81.8,588.3 L85.2,589.7 L88.6,591.0 L92.0,592.3 L95.4,593.6 L98.8,594.8 L102.2,596.0 L105.6,597.2 L109.0,598.3 L112.4,599.4 L115.8,600.4 L119.2,601.4 L122.6,602.3 L126.0,603.2 L129.4,604.1 L132.8,605.0 L136.2,605.8 L139.6,606.5 L143.0,607.3 L146.4,608.0 L149.8,608.7 L153.2,609.4 L156.6,610.0 L160.0,610.7 L163.4,611.3 L166.8,611.9 L170.2,612.5 L173.6,613.1 L177.0,613.7 L180.4,614.2 L183.8,614.8 L187.2,615.4 L190.6,615.9" fill="none" stroke="#3441a0" stroke-width="0.6" stroke-opacity="0.35" stroke-dasharray="1,1"/>
<path d="M54.6,604.3 L58.0,605.4 L61.4,606.5 L64.8,607.6 L68.2,608.8 L71.6,609.9 L75.0,611.1 L78.4,612.3 L81.8,613.6 L85.2,614.8 L88.6,616.1 L92.0,617.5 L95.4,618.8 L98.8,620.3 L102.2,621.7 L105.6,623.3 L109.0,624.9 L112.4,626.5 L115.8,628.2 L119.2,629.9 L122.6,631.7 L126.0,633.6 L129.4,635.5 L132.8,637.5 L136.2,639.5 L139.6,641.5 L143.0,643.6 L146.4,645.7 L149.8,647.9 L153.2,650.1 L156.6,652.3 L160.0,654.5 L163.4,656.8 L166.8,659.0 L170.2,661.3 L173.6,663.6 L177.0,665.9 L180.4,668.2 L183.8,670.6 L187.2,672.9 L190.6,675.3" fill="none" stroke="#b3624e" stroke-width="0.6" stroke-opacity="0.35" stroke-dasharray="1,1"/>
<path d="M54.6,570.3 L58.0,572.6 L61.4,574.9 L64.8,577.1 L68.2,579.4 L71.6,581.6 L75.0,583.8 L78.4,586.0 L81.8,588.1 L85.2,590.3 L88.6,592.4 L92.0,594.4 L95.4,596.4 L98.8,598.4 L102.2,600.3 L105.6,602.1 L109.0,604.0 L112.4,605.7 L115.8,607.4 L119.2,609.0 L122.6,610.6 L126.0,612.1 L129.4,613.6 L132.8,615.0 L136.2,616.4 L139.6,617.8 L143.0,619.1 L146.4,620.3 L149.8,621.6 L153.2,622.8 L156.6,624.0 L160.0,625.1 L163.4,626.3 L166.8,627.4 L170.2,628.5 L173.6,629.6 L177.0,630.7 L180.4,631.7 L183.8,632.8 L187.2,633.8 L190.6,634.9" fill="none" stroke="#b3624e" stroke-width="0.6" stroke-opacity="0.35" stroke-dasharray="1,1"/>
<line x1="54.60" y1="589.45" x2="190.60" y2="630.87" stroke="#3441a0" stroke-width="0.95"/>
<line x1="54.60" y1="587.30" x2="190.60" y2="655.07" stroke="#b3624e" stroke-width="0.95"/>
<rect x="51.30" y="585.63" width="6.60" height="6.60" fill="none" stroke="#b3624e" stroke-width="1.2"/>
<line x1="88.60" y1="619.30" x2="88.60" y2="575.78" stroke="#b3624e" stroke-width="0.9"/>
<line x1="85.60" y1="619.30" x2="91.60" y2="619.30" stroke="#b3624e" stroke-width="0.9"/>
<line x1="85.60" y1="575.78" x2="91.60" y2="575.78" stroke="#b3624e" stroke-width="0.9"/>
<rect x="85.30" y="594.24" width="6.60" height="6.60" fill="none" stroke="#b3624e" stroke-width="1.2"/>
<line x1="122.60" y1="643.33" x2="122.60" y2="612.50" stroke="#b3624e" stroke-width="0.9"/>
<line x1="119.60" y1="643.33" x2="125.60" y2="643.33" stroke="#b3624e" stroke-width="0.9"/>
<line x1="119.60" y1="612.50" x2="125.60" y2="612.50" stroke="#b3624e" stroke-width="0.9"/>
<rect x="119.30" y="624.62" width="6.60" height="6.60" fill="none" stroke="#b3624e" stroke-width="1.2"/>
<line x1="190.60" y1="665.09" x2="190.60" y2="641.52" stroke="#b3624e" stroke-width="0.9"/>
<line x1="187.60" y1="665.09" x2="193.60" y2="665.09" stroke="#b3624e" stroke-width="0.9"/>
<line x1="187.60" y1="641.52" x2="193.60" y2="641.52" stroke="#b3624e" stroke-width="0.9"/>
<rect x="187.30" y="650.01" width="6.60" height="6.60" fill="none" stroke="#b3624e" stroke-width="1.2"/>
<circle cx="54.60" cy="588.93" r="3.20" fill="none" stroke="#3441a0" stroke-width="1.3"/>
<line x1="88.60" y1="614.32" x2="88.60" y2="579.86" stroke="#3441a0" stroke-width="0.9"/>
<line x1="85.60" y1="614.32" x2="91.60" y2="614.32" stroke="#3441a0" stroke-width="0.9"/>
<line x1="85.60" y1="579.86" x2="91.60" y2="579.86" stroke="#3441a0" stroke-width="0.9"/>
<circle cx="88.60" cy="597.09" r="3.20" fill="none" stroke="#3441a0" stroke-width="1.3"/>
<line x1="122.60" y1="629.73" x2="122.60" y2="602.53" stroke="#3441a0" stroke-width="0.9"/>
<line x1="119.60" y1="629.73" x2="125.60" y2="629.73" stroke="#3441a0" stroke-width="0.9"/>
<line x1="119.60" y1="602.53" x2="125.60" y2="602.53" stroke="#3441a0" stroke-width="0.9"/>
<circle cx="122.60" cy="616.13" r="3.20" fill="none" stroke="#3441a0" stroke-width="1.3"/>
<line x1="190.60" y1="631.82" x2="190.60" y2="626.38" stroke="#3441a0" stroke-width="0.9"/>
<line x1="187.60" y1="631.82" x2="193.60" y2="631.82" stroke="#3441a0" stroke-width="0.9"/>
<line x1="187.60" y1="626.38" x2="193.60" y2="626.38" stroke="#3441a0" stroke-width="0.9"/>
<circle cx="190.60" cy="629.10" r="3.20" fill="none" stroke="#3441a0" stroke-width="1.3"/>
<text x="190.60" y="644.21" font-size="8.5" text-anchor="middle" stroke="#111" stroke-width="0.25">*</text>
<text x="56.60" y="649.70" font-size="8.85" fill="#3441a0" stroke="#3441a0" stroke-width="0.2">Y = -0.05711*X + 0.9943</text>
<text x="56.60" y="659.20" font-size="8.85" fill="#3441a0" stroke="#3441a0" stroke-width="0.2">R<tspan font-size="6.3" dy="-3.6">2</tspan><tspan dy="3.6"> = 0.6965</tspan></text>
<text x="56.60" y="667.60" font-size="8.85" fill="#b3624e" stroke="#b3624e" stroke-width="0.2">Y = -0.09343*X + 1.018</text>
<text x="56.60" y="677.40" font-size="8.85" fill="#b3624e" stroke="#b3624e" stroke-width="0.2">R<tspan font-size="6.3" dy="-3.6">2</tspan><tspan dy="3.6"> = 0.7727</tspan></text>
<line x1="158.50" y1="546.50" x2="170.50" y2="546.50" stroke="#3441a0" stroke-width="1.0"/>
<circle cx="164.50" cy="546.50" r="3.20" fill="none" stroke="#3441a0" stroke-width="1.3"/>
<text x="177.70" y="549.70" font-size="9.15" stroke="#111" stroke-width="0.25">shRNA-NC</text>
<line x1="158.50" y1="562.20" x2="170.50" y2="562.20" stroke="#b3624e" stroke-width="1.0"/>
<rect x="161.20" y="558.90" width="6.60" height="6.60" fill="none" stroke="#b3624e" stroke-width="1.2"/>
<text x="177.70" y="565.40" font-size="9.15" stroke="#111" stroke-width="0.25">shUSP9X</text>
<line x1="278.10" y1="542.30" x2="278.10" y2="678.60" stroke="#333" stroke-width="1.0" shape-rendering="crispEdges"/>
<line x1="278.10" y1="678.60" x2="448.10" y2="678.60" stroke="#333" stroke-width="1.0" shape-rendering="crispEdges"/>
<line x1="273.60" y1="678.60" x2="278.10" y2="678.60" stroke="#333" stroke-width="1.0" shape-rendering="crispEdges"/>
<text x="272.10" y="682.10" font-size="9.7" text-anchor="end" stroke="#111" stroke-width="0.25">0.00</text>
<line x1="273.60" y1="655.93" x2="278.10" y2="655.93" stroke="#333" stroke-width="1.0" shape-rendering="crispEdges"/>
<text x="272.10" y="659.43" font-size="9.7" text-anchor="end" stroke="#111" stroke-width="0.25">0.25</text>
<line x1="273.60" y1="633.26" x2="278.10" y2="633.26" stroke="#333" stroke-width="1.0" shape-rendering="crispEdges"/>
<text x="272.10" y="636.76" font-size="9.7" text-anchor="end" stroke="#111" stroke-width="0.25">0.50</text>
<line x1="273.60" y1="610.60" x2="278.10" y2="610.60" stroke="#333" stroke-width="1.0" shape-rendering="crispEdges"/>
<text x="272.10" y="614.10" font-size="9.7" text-anchor="end" stroke="#111" stroke-width="0.25">0.75</text>
<line x1="273.60" y1="587.93" x2="278.10" y2="587.93" stroke="#333" stroke-width="1.0" shape-rendering="crispEdges"/>
<text x="272.10" y="591.43" font-size="9.7" text-anchor="end" stroke="#111" stroke-width="0.25">1.00</text>
<line x1="273.60" y1="565.26" x2="278.10" y2="565.26" stroke="#333" stroke-width="1.0" shape-rendering="crispEdges"/>
<text x="272.10" y="568.76" font-size="9.7" text-anchor="end" stroke="#111" stroke-width="0.25">1.25</text>
<line x1="273.60" y1="542.60" x2="278.10" y2="542.60" stroke="#333" stroke-width="1.0" shape-rendering="crispEdges"/>
<text x="272.10" y="546.10" font-size="9.7" text-anchor="end" stroke="#111" stroke-width="0.25">1.50</text>
<line x1="278.10" y1="678.60" x2="278.10" y2="682.40" stroke="#333" stroke-width="1.0" shape-rendering="crispEdges"/>
<text x="278.10" y="694.20" font-size="9.7" text-anchor="middle" stroke="#111" stroke-width="0.25">0</text>
<line x1="312.10" y1="678.60" x2="312.10" y2="682.40" stroke="#333" stroke-width="1.0" shape-rendering="crispEdges"/>
<text x="312.10" y="694.20" font-size="9.7" text-anchor="middle" stroke="#111" stroke-width="0.25">2</text>
<line x1="346.10" y1="678.60" x2="346.10" y2="682.40" stroke="#333" stroke-width="1.0" shape-rendering="crispEdges"/>
<text x="346.10" y="694.20" font-size="9.7" text-anchor="middle" stroke="#111" stroke-width="0.25">4</text>
<line x1="380.10" y1="678.60" x2="380.10" y2="682.40" stroke="#333" stroke-width="1.0" shape-rendering="crispEdges"/>
<text x="380.10" y="694.20" font-size="9.7" text-anchor="middle" stroke="#111" stroke-width="0.25">6</text>
<line x1="414.10" y1="678.60" x2="414.10" y2="682.40" stroke="#333" stroke-width="1.0" shape-rendering="crispEdges"/>
<text x="414.10" y="694.20" font-size="9.7" text-anchor="middle" stroke="#111" stroke-width="0.25">8</text>
<line x1="448.10" y1="678.60" x2="448.10" y2="682.40" stroke="#333" stroke-width="1.0" shape-rendering="crispEdges"/>
<text x="448.10" y="694.20" font-size="9.7" text-anchor="middle" stroke="#111" stroke-width="0.25">10</text>
<text x="363.10" y="708.10" font-size="9.7" text-anchor="middle" stroke="#111" stroke-width="0.25">Time (h)</text>
<text x="235.40" y="610.70" font-size="9.4" text-anchor="middle" transform="rotate(-90 235.40 610.70)" stroke="#111" stroke-width="0.25">Relative  IGF2BP2 levels</text>
<text x="287.10" y="549.60" font-size="9.7" stroke="#111" stroke-width="0.25">Hs 578T</text>
<path d="M278.1,603.5 L281.5,603.8 L284.9,604.0 L288.3,604.2 L291.7,604.5 L295.1,604.8 L298.5,605.1 L301.9,605.4 L305.3,605.7 L308.7,606.0 L312.1,606.4 L315.5,606.8 L318.9,607.3 L322.3,607.7 L325.7,608.2 L329.1,608.8 L332.5,609.4 L335.9,610.0 L339.3,610.6 L342.7,611.4 L346.1,612.1 L349.5,612.9 L352.9,613.7 L356.3,614.6 L359.7,615.5 L363.1,616.4 L366.5,617.4 L369.9,618.4 L373.3,619.4 L376.7,620.4 L380.1,621.4 L383.5,622.5 L386.9,623.6 L390.3,624.7 L393.7,625.8 L397.1,626.9 L400.5,628.0 L403.9,629.1 L407.3,630.3 L410.7,631.4 L414.1,632.6" fill="none" stroke="#3441a0" stroke-width="0.6" stroke-opacity="0.35" stroke-dasharray="1,1"/>
<path d="M278.1,578.3 L281.5,579.4 L284.9,580.6 L288.3,581.6 L291.7,582.7 L295.1,583.8 L298.5,584.8 L301.9,585.9 L305.3,586.9 L308.7,587.8 L312.1,588.8 L315.5,589.7 L318.9,590.6 L322.3,591.5 L325.7,592.3 L329.1,593.1 L332.5,593.9 L335.9,594.6 L339.3,595.2 L342.7,595.9 L346.1,596.5 L349.5,597.0 L352.9,597.5 L356.3,598.0 L359.7,598.4 L363.1,598.8 L366.5,599.2 L369.9,599.5 L373.3,599.9 L376.7,600.2 L380.1,600.5 L383.5,600.7 L386.9,601.0 L390.3,601.2 L393.7,601.5 L397.1,601.7 L400.5,601.9 L403.9,602.1 L407.3,602.3 L410.7,602.5 L414.1,602.7" fill="none" stroke="#3441a0" stroke-width="0.6" stroke-opacity="0.35" stroke-dasharray="1,1"/>
<path d="M278.1,604.6 L281.5,605.6 L284.9,606.5 L288.3,607.5 L291.7,608.5 L295.1,609.6 L298.5,610.6 L301.9,611.7 L305.3,612.8 L308.7,614.0 L312.1,615.1 L315.5,616.4 L318.9,617.6 L322.3,618.9 L325.7,620.3 L329.1,621.7 L332.5,623.1 L335.9,624.6 L339.3,626.2 L342.7,627.8 L346.1,629.5 L349.5,631.2 L352.9,633.0 L356.3,634.9 L359.7,636.8 L363.1,638.7 L366.5,640.6 L369.9,642.6 L373.3,644.7 L376.7,646.7 L380.1,648.8 L383.5,650.9 L386.9,653.0 L390.3,655.2 L393.7,657.3 L397.1,659.5 L400.5,661.7 L403.9,663.9 L407.3,666.1 L410.7,668.3 L414.1,670.5" fill="none" stroke="#b3624e" stroke-width="0.6" stroke-opacity="0.35" stroke-dasharray="1,1"/>
<path d="M278.1,570.6 L281.5,572.7 L284.9,574.9 L288.3,577.0 L291.7,579.1 L295.1,581.3 L298.5,583.3 L301.9,585.4 L305.3,587.4 L308.7,589.4 L312.1,591.4 L315.5,593.3 L318.9,595.2 L322.3,597.0 L325.7,598.8 L329.1,600.5 L332.5,602.2 L335.9,603.8 L339.3,605.4 L342.7,606.9 L346.1,608.4 L349.5,609.8 L352.9,611.1 L356.3,612.4 L359.7,613.7 L363.1,614.9 L366.5,616.1 L369.9,617.2 L373.3,618.3 L376.7,619.4 L380.1,620.5 L383.5,621.5 L386.9,622.5 L390.3,623.5 L393.7,624.5 L397.1,625.5 L400.5,626.4 L403.9,627.4 L407.3,628.3 L410.7,629.2 L414.1,630.1" fill="none" stroke="#b3624e" stroke-width="0.6" stroke-opacity="0.35" stroke-dasharray="1,1"/>
<line x1="278.10" y1="590.94" x2="414.10" y2="617.62" stroke="#3441a0" stroke-width="0.95"/>
<line x1="278.10" y1="587.57" x2="414.10" y2="650.33" stroke="#b3624e" stroke-width="0.95"/>
<rect x="274.80" y="584.63" width="6.60" height="6.60" fill="none" stroke="#b3624e" stroke-width="1.2"/>
<line x1="312.10" y1="615.13" x2="312.10" y2="580.68" stroke="#b3624e" stroke-width="0.9"/>
<line x1="309.10" y1="615.13" x2="315.10" y2="615.13" stroke="#b3624e" stroke-width="0.9"/>
<line x1="309.10" y1="580.68" x2="315.10" y2="580.68" stroke="#b3624e" stroke-width="0.9"/>
<rect x="308.80" y="594.60" width="6.60" height="6.60" fill="none" stroke="#b3624e" stroke-width="1.2"/>
<line x1="346.10" y1="642.33" x2="346.10" y2="611.50" stroke="#b3624e" stroke-width="0.9"/>
<line x1="343.10" y1="642.33" x2="349.10" y2="642.33" stroke="#b3624e" stroke-width="0.9"/>
<line x1="343.10" y1="611.50" x2="349.10" y2="611.50" stroke="#b3624e" stroke-width="0.9"/>
<rect x="342.80" y="623.62" width="6.60" height="6.60" fill="none" stroke="#b3624e" stroke-width="1.2"/>
<line x1="414.10" y1="663.19" x2="414.10" y2="632.36" stroke="#b3624e" stroke-width="0.9"/>
<line x1="411.10" y1="663.19" x2="417.10" y2="663.19" stroke="#b3624e" stroke-width="0.9"/>
<line x1="411.10" y1="632.36" x2="417.10" y2="632.36" stroke="#b3624e" stroke-width="0.9"/>
<rect x="410.80" y="644.47" width="6.60" height="6.60" fill="none" stroke="#b3624e" stroke-width="1.2"/>
<circle cx="278.10" cy="587.93" r="3.20" fill="none" stroke="#3441a0" stroke-width="1.3"/>
<line x1="312.10" y1="603.34" x2="312.10" y2="590.65" stroke="#3441a0" stroke-width="0.9"/>
<line x1="309.10" y1="603.34" x2="315.10" y2="603.34" stroke="#3441a0" stroke-width="0.9"/>
<line x1="309.10" y1="590.65" x2="315.10" y2="590.65" stroke="#3441a0" stroke-width="0.9"/>
<circle cx="312.10" cy="597.00" r="3.20" fill="none" stroke="#3441a0" stroke-width="1.3"/>
<line x1="346.10" y1="619.66" x2="346.10" y2="605.16" stroke="#3441a0" stroke-width="0.9"/>
<line x1="343.10" y1="619.66" x2="349.10" y2="619.66" stroke="#3441a0" stroke-width="0.9"/>
<line x1="343.10" y1="605.16" x2="349.10" y2="605.16" stroke="#3441a0" stroke-width="0.9"/>
<circle cx="346.10" cy="612.41" r="3.20" fill="none" stroke="#3441a0" stroke-width="1.3"/>
<line x1="414.10" y1="620.57" x2="414.10" y2="607.88" stroke="#3441a0" stroke-width="0.9"/>
<line x1="411.10" y1="620.57" x2="417.10" y2="620.57" stroke="#3441a0" stroke-width="0.9"/>
<line x1="411.10" y1="607.88" x2="417.10" y2="607.88" stroke="#3441a0" stroke-width="0.9"/>
<circle cx="414.10" cy="614.22" r="3.20" fill="none" stroke="#3441a0" stroke-width="1.3"/>
<text x="414.10" y="606.94" font-size="8.5" text-anchor="middle" stroke="#111" stroke-width="0.25">*</text>
<text x="279.60" y="648.90" font-size="8.85" fill="#3441a0" stroke="#3441a0" stroke-width="0.2">Y = -0.03678*X + 0.9668</text>
<text x="279.60" y="657.80" font-size="8.85" fill="#3441a0" stroke="#3441a0" stroke-width="0.2">R<tspan font-size="6.3" dy="-3.6">2</tspan><tspan dy="3.6"> = 0.6786</tspan></text>
<text x="279.60" y="666.80" font-size="8.85" fill="#b3624e" stroke="#b3624e" stroke-width="0.2">Y = -0.08653*X + 1.004</text>
<text x="279.60" y="675.90" font-size="8.85" fill="#b3624e" stroke="#b3624e" stroke-width="0.2">R<tspan font-size="6.3" dy="-3.6">2</tspan><tspan dy="3.6"> = 0.7511</tspan></text>
<line x1="382.50" y1="545.50" x2="394.50" y2="545.50" stroke="#3441a0" stroke-width="1.0"/>
<circle cx="388.50" cy="545.50" r="3.20" fill="none" stroke="#3441a0" stroke-width="1.3"/>
<text x="401.70" y="548.70" font-size="9.15" stroke="#111" stroke-width="0.25">shRNA-NC</text>
<line x1="382.50" y1="561.20" x2="394.50" y2="561.20" stroke="#b3624e" stroke-width="1.0"/>
<rect x="385.20" y="557.90" width="6.60" height="6.60" fill="none" stroke="#b3624e" stroke-width="1.2"/>
<text x="401.70" y="564.40" font-size="9.15" stroke="#111" stroke-width="0.25">shUSP9X</text>
<text x="457.60" y="537.00" font-size="18" font-weight="bold" fill="#000" stroke="#000" stroke-width="0.25">j</text>
<line x1="502.00" y1="544.90" x2="502.00" y2="681.20" stroke="#333" stroke-width="1.0" shape-rendering="crispEdges"/>
<line x1="502.00" y1="681.20" x2="672.00" y2="681.20" stroke="#333" stroke-width="1.0" shape-rendering="crispEdges"/>
<line x1="497.50" y1="681.20" x2="502.00" y2="681.20" stroke="#333" stroke-width="1.0" shape-rendering="crispEdges"/>
<text x="496.00" y="684.70" font-size="9.7" text-anchor="end" stroke="#111" stroke-width="0.25">0.00</text>
<line x1="497.50" y1="658.53" x2="502.00" y2="658.53" stroke="#333" stroke-width="1.0" shape-rendering="crispEdges"/>
<text x="496.00" y="662.03" font-size="9.7" text-anchor="end" stroke="#111" stroke-width="0.25">0.25</text>
<line x1="497.50" y1="635.87" x2="502.00" y2="635.87" stroke="#333" stroke-width="1.0" shape-rendering="crispEdges"/>
<text x="496.00" y="639.37" font-size="9.7" text-anchor="end" stroke="#111" stroke-width="0.25">0.50</text>
<line x1="497.50" y1="613.20" x2="502.00" y2="613.20" stroke="#333" stroke-width="1.0" shape-rendering="crispEdges"/>
<text x="496.00" y="616.70" font-size="9.7" text-anchor="end" stroke="#111" stroke-width="0.25">0.75</text>
<line x1="497.50" y1="590.53" x2="502.00" y2="590.53" stroke="#333" stroke-width="1.0" shape-rendering="crispEdges"/>
<text x="496.00" y="594.03" font-size="9.7" text-anchor="end" stroke="#111" stroke-width="0.25">1.00</text>
<line x1="497.50" y1="567.86" x2="502.00" y2="567.86" stroke="#333" stroke-width="1.0" shape-rendering="crispEdges"/>
<text x="496.00" y="571.36" font-size="9.7" text-anchor="end" stroke="#111" stroke-width="0.25">1.25</text>
<line x1="497.50" y1="545.20" x2="502.00" y2="545.20" stroke="#333" stroke-width="1.0" shape-rendering="crispEdges"/>
<text x="496.00" y="548.70" font-size="9.7" text-anchor="end" stroke="#111" stroke-width="0.25">1.50</text>
<line x1="502.00" y1="681.20" x2="502.00" y2="685.00" stroke="#333" stroke-width="1.0" shape-rendering="crispEdges"/>
<text x="502.00" y="696.80" font-size="9.7" text-anchor="middle" stroke="#111" stroke-width="0.25">0</text>
<line x1="536.00" y1="681.20" x2="536.00" y2="685.00" stroke="#333" stroke-width="1.0" shape-rendering="crispEdges"/>
<text x="536.00" y="696.80" font-size="9.7" text-anchor="middle" stroke="#111" stroke-width="0.25">2</text>
<line x1="570.00" y1="681.20" x2="570.00" y2="685.00" stroke="#333" stroke-width="1.0" shape-rendering="crispEdges"/>
<text x="570.00" y="696.80" font-size="9.7" text-anchor="middle" stroke="#111" stroke-width="0.25">4</text>
<line x1="604.00" y1="681.20" x2="604.00" y2="685.00" stroke="#333" stroke-width="1.0" shape-rendering="crispEdges"/>
<text x="604.00" y="696.80" font-size="9.7" text-anchor="middle" stroke="#111" stroke-width="0.25">6</text>
<line x1="638.00" y1="681.20" x2="638.00" y2="685.00" stroke="#333" stroke-width="1.0" shape-rendering="crispEdges"/>
<text x="638.00" y="696.80" font-size="9.7" text-anchor="middle" stroke="#111" stroke-width="0.25">8</text>
<line x1="672.00" y1="681.20" x2="672.00" y2="685.00" stroke="#333" stroke-width="1.0" shape-rendering="crispEdges"/>
<text x="672.00" y="696.80" font-size="9.7" text-anchor="middle" stroke="#111" stroke-width="0.25">10</text>
<text x="587.00" y="710.70" font-size="9.7" text-anchor="middle" stroke="#111" stroke-width="0.25">Time (h)</text>
<text x="461.30" y="612.20" font-size="9.4" text-anchor="middle" transform="rotate(-90 461.30 612.20)" stroke="#111" stroke-width="0.25">Relative  IGF2BP2 levels</text>
<text x="512.00" y="552.20" font-size="9.7" stroke="#111" stroke-width="0.25">HEK-293T</text>
<path d="M502.0,607.4 L505.4,608.3 L508.8,609.3 L512.2,610.3 L515.6,611.3 L519.0,612.4 L522.4,613.4 L525.8,614.5 L529.2,615.6 L532.6,616.7 L536.0,617.8 L539.4,619.0 L542.8,620.2 L546.2,621.4 L549.6,622.6 L553.0,623.9 L556.4,625.3 L559.8,626.7 L563.2,628.1 L566.6,629.6 L570.0,631.1 L573.4,632.6 L576.8,634.2 L580.2,635.8 L583.6,637.5 L587.0,639.2 L590.4,640.9 L593.8,642.6 L597.2,644.4 L600.6,646.2 L604.0,648.0 L607.4,649.8 L610.8,651.6 L614.2,653.5 L617.6,655.3 L621.0,657.2 L624.4,659.1 L627.8,661.0 L631.2,662.9 L634.6,664.8 L638.0,666.7" fill="none" stroke="#3441a0" stroke-width="0.6" stroke-opacity="0.35" stroke-dasharray="1,1"/>
<path d="M502.0,582.2 L505.4,584.0 L508.8,585.9 L512.2,587.7 L515.6,589.6 L519.0,591.4 L522.4,593.2 L525.8,595.0 L529.2,596.7 L532.6,598.5 L536.0,600.2 L539.4,601.9 L542.8,603.5 L546.2,605.2 L549.6,606.8 L553.0,608.3 L556.4,609.8 L559.8,611.3 L563.2,612.7 L566.6,614.1 L570.0,615.4 L573.4,616.7 L576.8,618.0 L580.2,619.2 L583.6,620.4 L587.0,621.6 L590.4,622.7 L593.8,623.8 L597.2,624.9 L600.6,625.9 L604.0,627.0 L607.4,628.0 L610.8,629.0 L614.2,630.0 L617.6,631.0 L621.0,632.0 L624.4,633.0 L627.8,633.9 L631.2,634.9 L634.6,635.8 L638.0,636.8" fill="none" stroke="#3441a0" stroke-width="0.6" stroke-opacity="0.35" stroke-dasharray="1,1"/>
<path d="M502.0,608.4 L505.4,608.9 L508.8,609.3 L512.2,609.8 L515.6,610.3 L519.0,610.8 L522.4,611.3 L525.8,611.9 L529.2,612.4 L532.6,613.1 L536.0,613.7 L539.4,614.4 L542.8,615.1 L546.2,615.9 L549.6,616.7 L553.0,617.6 L556.4,618.5 L559.8,619.5 L563.2,620.5 L566.6,621.6 L570.0,622.8 L573.4,624.0 L576.8,625.3 L580.2,626.6 L583.6,627.9 L587.0,629.3 L590.4,630.7 L593.8,632.2 L597.2,633.7 L600.6,635.2 L604.0,636.8 L607.4,638.4 L610.8,640.0 L614.2,641.6 L617.6,643.2 L621.0,644.8 L624.4,646.5 L627.8,648.2 L631.2,649.9 L634.6,651.5 L638.0,653.2" fill="none" stroke="#b3624e" stroke-width="0.6" stroke-opacity="0.35" stroke-dasharray="1,1"/>
<path d="M502.0,574.4 L505.4,576.0 L508.8,577.7 L512.2,579.3 L515.6,580.9 L519.0,582.5 L522.4,584.0 L525.8,585.5 L529.2,587.0 L532.6,588.5 L536.0,589.9 L539.4,591.3 L542.8,592.7 L546.2,594.0 L549.6,595.3 L553.0,596.5 L556.4,597.6 L559.8,598.7 L563.2,599.8 L566.6,600.7 L570.0,601.7 L573.4,602.5 L576.8,603.4 L580.2,604.1 L583.6,604.9 L587.0,605.5 L590.4,606.2 L593.8,606.8 L597.2,607.4 L600.6,607.9 L604.0,608.5 L607.4,609.0 L610.8,609.5 L614.2,609.9 L617.6,610.4 L621.0,610.8 L624.4,611.2 L627.8,611.6 L631.2,612.1 L634.6,612.4 L638.0,612.8" fill="none" stroke="#b3624e" stroke-width="0.6" stroke-opacity="0.35" stroke-dasharray="1,1"/>
<line x1="502.00" y1="594.76" x2="638.00" y2="651.72" stroke="#3441a0" stroke-width="0.95"/>
<line x1="502.00" y1="591.42" x2="638.00" y2="633.03" stroke="#b3624e" stroke-width="0.95"/>
<path d="M502.00,586.83 L505.70,590.53 L502.00,594.23 L498.30,590.53 Z" fill="none" stroke="#b3624e" stroke-width="1.1"/>
<line x1="536.00" y1="610.48" x2="536.00" y2="595.97" stroke="#b3624e" stroke-width="0.9"/>
<line x1="533.00" y1="610.48" x2="539.00" y2="610.48" stroke="#b3624e" stroke-width="0.9"/>
<line x1="533.00" y1="595.97" x2="539.00" y2="595.97" stroke="#b3624e" stroke-width="0.9"/>
<path d="M536.00,599.52 L539.70,603.22 L536.00,606.92 L532.30,603.22 Z" fill="none" stroke="#b3624e" stroke-width="1.1"/>
<line x1="570.00" y1="626.80" x2="570.00" y2="594.16" stroke="#b3624e" stroke-width="0.9"/>
<line x1="567.00" y1="626.80" x2="573.00" y2="626.80" stroke="#b3624e" stroke-width="0.9"/>
<line x1="567.00" y1="594.16" x2="573.00" y2="594.16" stroke="#b3624e" stroke-width="0.9"/>
<path d="M570.00,606.78 L573.70,610.48 L570.00,614.18 L566.30,610.48 Z" fill="none" stroke="#b3624e" stroke-width="1.1"/>
<line x1="638.00" y1="642.21" x2="638.00" y2="624.08" stroke="#b3624e" stroke-width="0.9"/>
<line x1="635.00" y1="642.21" x2="641.00" y2="642.21" stroke="#b3624e" stroke-width="0.9"/>
<line x1="635.00" y1="624.08" x2="641.00" y2="624.08" stroke="#b3624e" stroke-width="0.9"/>
<path d="M638.00,629.44 L641.70,633.14 L638.00,636.84 L634.30,633.14 Z" fill="none" stroke="#b3624e" stroke-width="1.1"/>
<path d="M502.00,586.93 L505.10,592.73 L498.90,592.73 Z" fill="none" stroke="#3441a0" stroke-width="1.2"/>
<line x1="536.00" y1="612.29" x2="536.00" y2="605.04" stroke="#3441a0" stroke-width="0.9"/>
<line x1="533.00" y1="612.29" x2="539.00" y2="612.29" stroke="#3441a0" stroke-width="0.9"/>
<line x1="533.00" y1="605.04" x2="539.00" y2="605.04" stroke="#3441a0" stroke-width="0.9"/>
<path d="M536.00,605.06 L539.10,610.86 L532.90,610.86 Z" fill="none" stroke="#3441a0" stroke-width="1.2"/>
<line x1="570.00" y1="637.68" x2="570.00" y2="626.80" stroke="#3441a0" stroke-width="0.9"/>
<line x1="567.00" y1="637.68" x2="573.00" y2="637.68" stroke="#3441a0" stroke-width="0.9"/>
<line x1="567.00" y1="626.80" x2="573.00" y2="626.80" stroke="#3441a0" stroke-width="0.9"/>
<path d="M570.00,628.64 L573.10,634.44 L566.90,634.44 Z" fill="none" stroke="#3441a0" stroke-width="1.2"/>
<line x1="638.00" y1="652.19" x2="638.00" y2="643.12" stroke="#3441a0" stroke-width="0.9"/>
<line x1="635.00" y1="652.19" x2="641.00" y2="652.19" stroke="#3441a0" stroke-width="0.9"/>
<line x1="635.00" y1="643.12" x2="641.00" y2="643.12" stroke="#3441a0" stroke-width="0.9"/>
<path d="M638.00,644.05 L641.10,649.85 L634.90,649.85 Z" fill="none" stroke="#3441a0" stroke-width="1.2"/>
<text x="638.00" y="624.96" font-size="8.5" text-anchor="middle" stroke="#111" stroke-width="0.25">*</text>
<text x="513.70" y="647.50" font-size="8.7" fill="#3441a0" stroke="#3441a0" stroke-width="0.45">Y = -0.07852*X + 0.9533</text>
<text x="513.70" y="658.00" font-size="8.7" fill="#3441a0" stroke="#3441a0" stroke-width="0.2">R<tspan font-size="6.3" dy="-3.6">2</tspan><tspan dy="3.6"> = 0.9121</tspan></text>
<text x="513.70" y="666.60" font-size="8.7" fill="#b3624e" stroke="#b3624e" stroke-width="0.45">Y = -0.05737*X + 0.9902</text>
<text x="513.70" y="677.40" font-size="8.7" fill="#b3624e" stroke="#b3624e" stroke-width="0.2">R<tspan font-size="6.3" dy="-3.6">2</tspan><tspan dy="3.6"> = 0.7716</tspan></text>
<line x1="606.20" y1="548.10" x2="618.20" y2="548.10" stroke="#3441a0" stroke-width="1.0"/>
<path d="M612.20,544.50 L615.30,550.30 L609.10,550.30 Z" fill="none" stroke="#3441a0" stroke-width="1.2"/>
<text x="625.40" y="551.30" font-size="9.5" stroke="#111" stroke-width="0.25">Vector</text>
<line x1="606.20" y1="563.80" x2="618.20" y2="563.80" stroke="#b3624e" stroke-width="1.0"/>
<path d="M612.20,560.10 L615.90,563.80 L612.20,567.50 L608.50,563.80 Z" fill="none" stroke="#b3624e" stroke-width="1.1"/>
<text x="625.40" y="567.00" font-size="9.5" stroke="#111" stroke-width="0.25">Flag-USP9X</text></svg>
</body></html>
